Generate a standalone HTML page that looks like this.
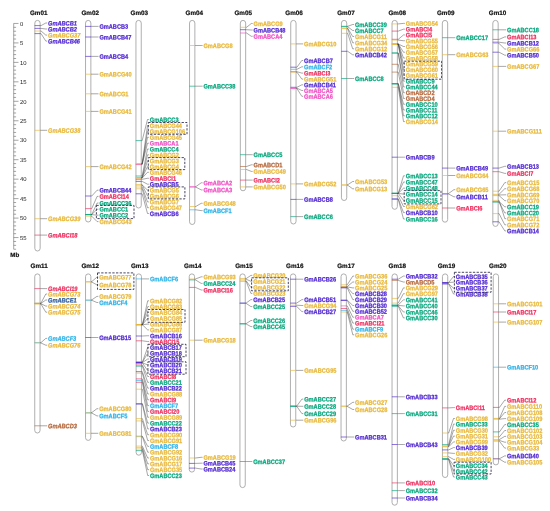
<!DOCTYPE html>
<html><head><meta charset="utf-8"><title>GmABC chromosome map</title>
<style>html,body{margin:0;padding:0;background:#fff}svg{display:block}</style></head>
<body>
<svg width="550" height="511" viewBox="0 0 550 511" font-family="'Liberation Sans', Arial, sans-serif" text-rendering="geometricPrecision">
<rect width="550" height="511" fill="#fff"/>
<g stroke="#5a5a5a" stroke-width="0.55" fill="none"><line x1="13.7" y1="23.45" x2="13.7" y2="249.24"/><line x1="13.7" y1="23.45" x2="18.5" y2="23.45"/><line x1="13.7" y1="27.34" x2="16.099999999999998" y2="27.34"/><line x1="13.7" y1="31.24" x2="16.099999999999998" y2="31.24"/><line x1="13.7" y1="35.13" x2="16.099999999999998" y2="35.13"/><line x1="13.7" y1="39.02" x2="16.099999999999998" y2="39.02"/><line x1="13.7" y1="42.91" x2="18.5" y2="42.91"/><line x1="13.7" y1="46.81" x2="16.099999999999998" y2="46.81"/><line x1="13.7" y1="50.70" x2="16.099999999999998" y2="50.70"/><line x1="13.7" y1="54.59" x2="16.099999999999998" y2="54.59"/><line x1="13.7" y1="58.49" x2="16.099999999999998" y2="58.49"/><line x1="13.7" y1="62.38" x2="18.5" y2="62.38"/><line x1="13.7" y1="66.27" x2="16.099999999999998" y2="66.27"/><line x1="13.7" y1="70.17" x2="16.099999999999998" y2="70.17"/><line x1="13.7" y1="74.06" x2="16.099999999999998" y2="74.06"/><line x1="13.7" y1="77.95" x2="16.099999999999998" y2="77.95"/><line x1="13.7" y1="81.84" x2="18.5" y2="81.84"/><line x1="13.7" y1="85.74" x2="16.099999999999998" y2="85.74"/><line x1="13.7" y1="89.63" x2="16.099999999999998" y2="89.63"/><line x1="13.7" y1="93.52" x2="16.099999999999998" y2="93.52"/><line x1="13.7" y1="97.42" x2="16.099999999999998" y2="97.42"/><line x1="13.7" y1="101.31" x2="18.5" y2="101.31"/><line x1="13.7" y1="105.20" x2="16.099999999999998" y2="105.20"/><line x1="13.7" y1="109.10" x2="16.099999999999998" y2="109.10"/><line x1="13.7" y1="112.99" x2="16.099999999999998" y2="112.99"/><line x1="13.7" y1="116.88" x2="16.099999999999998" y2="116.88"/><line x1="13.7" y1="120.77" x2="18.5" y2="120.77"/><line x1="13.7" y1="124.67" x2="16.099999999999998" y2="124.67"/><line x1="13.7" y1="128.56" x2="16.099999999999998" y2="128.56"/><line x1="13.7" y1="132.45" x2="16.099999999999998" y2="132.45"/><line x1="13.7" y1="136.35" x2="16.099999999999998" y2="136.35"/><line x1="13.7" y1="140.24" x2="18.5" y2="140.24"/><line x1="13.7" y1="144.13" x2="16.099999999999998" y2="144.13"/><line x1="13.7" y1="148.03" x2="16.099999999999998" y2="148.03"/><line x1="13.7" y1="151.92" x2="16.099999999999998" y2="151.92"/><line x1="13.7" y1="155.81" x2="16.099999999999998" y2="155.81"/><line x1="13.7" y1="159.70" x2="18.5" y2="159.70"/><line x1="13.7" y1="163.60" x2="16.099999999999998" y2="163.60"/><line x1="13.7" y1="167.49" x2="16.099999999999998" y2="167.49"/><line x1="13.7" y1="171.38" x2="16.099999999999998" y2="171.38"/><line x1="13.7" y1="175.28" x2="16.099999999999998" y2="175.28"/><line x1="13.7" y1="179.17" x2="18.5" y2="179.17"/><line x1="13.7" y1="183.06" x2="16.099999999999998" y2="183.06"/><line x1="13.7" y1="186.96" x2="16.099999999999998" y2="186.96"/><line x1="13.7" y1="190.85" x2="16.099999999999998" y2="190.85"/><line x1="13.7" y1="194.74" x2="16.099999999999998" y2="194.74"/><line x1="13.7" y1="198.63" x2="18.5" y2="198.63"/><line x1="13.7" y1="202.53" x2="16.099999999999998" y2="202.53"/><line x1="13.7" y1="206.42" x2="16.099999999999998" y2="206.42"/><line x1="13.7" y1="210.31" x2="16.099999999999998" y2="210.31"/><line x1="13.7" y1="214.21" x2="16.099999999999998" y2="214.21"/><line x1="13.7" y1="218.10" x2="18.5" y2="218.10"/><line x1="13.7" y1="221.99" x2="16.099999999999998" y2="221.99"/><line x1="13.7" y1="225.89" x2="16.099999999999998" y2="225.89"/><line x1="13.7" y1="229.78" x2="16.099999999999998" y2="229.78"/><line x1="13.7" y1="233.67" x2="16.099999999999998" y2="233.67"/><line x1="13.7" y1="237.56" x2="18.5" y2="237.56"/><line x1="13.7" y1="241.46" x2="16.099999999999998" y2="241.46"/><line x1="13.7" y1="245.35" x2="16.099999999999998" y2="245.35"/><line x1="13.7" y1="249.24" x2="16.099999999999998" y2="249.24"/></g>
<g font-size="5.9" fill="#222"><text x="20.0" y="25.65">0</text><text x="20.0" y="45.12">5</text><text x="20.0" y="64.58">10</text><text x="20.0" y="84.05">15</text><text x="20.0" y="103.51">20</text><text x="20.0" y="122.97">25</text><text x="20.0" y="142.44">30</text><text x="20.0" y="161.90">35</text><text x="20.0" y="181.37">40</text><text x="20.0" y="200.83">45</text><text x="20.0" y="220.30">50</text><text x="20.0" y="239.76">55</text></g>
<text x="10.3" y="257" font-size="6.2" font-weight="bold" fill="#111" stroke="#111" stroke-width="0.2">Mb</text>
<!-- Gm01 -->
<text x="29.9" y="14.6" font-size="6.3" font-weight="bold" fill="#111" stroke="#111" stroke-width="0.2">Gm01</text>
<rect x="34.84" y="20.40" width="5.32" height="230.60" rx="2.66" ry="2.66" fill="#fff" stroke="#a0a0a0" stroke-width="0.85"/>
<g><line x1="34.64" y1="25.60" x2="40.36" y2="25.60" stroke="#5128d2" stroke-width="0.65"/><line x1="34.64" y1="28.40" x2="40.36" y2="28.40" stroke="#5128d2" stroke-width="0.65"/><line x1="34.64" y1="31.00" x2="40.36" y2="31.00" stroke="#e8b83a" stroke-width="0.65"/><line x1="34.64" y1="33.60" x2="40.36" y2="33.60" stroke="#5128d2" stroke-width="0.65"/><line x1="34.64" y1="130.30" x2="40.36" y2="130.30" stroke="#e8b83a" stroke-width="0.65"/><line x1="34.64" y1="218.70" x2="40.36" y2="218.70" stroke="#e8b83a" stroke-width="0.65"/><line x1="34.64" y1="235.10" x2="40.36" y2="235.10" stroke="#ef2f5f" stroke-width="0.65"/></g>
<g fill="none" stroke="#3c3c3c" stroke-width="0.45"><polyline points="40.36,25.60 41.06,25.60 45.80,23.00 47.20,23.00"/><polyline points="40.36,28.40 41.06,28.40 45.80,29.00 47.20,29.00"/><polyline points="40.36,31.00 41.06,31.00 45.80,35.10 47.20,35.10"/><polyline points="40.36,33.60 41.06,33.60 45.80,41.10 47.20,41.10"/><polyline points="40.36,130.30 41.06,130.30 45.80,130.30 47.20,130.30"/><polyline points="40.36,218.70 41.06,218.70 45.80,218.70 47.20,218.70"/><polyline points="40.36,235.10 41.06,235.10 45.80,235.10 47.20,235.10"/></g>
<g font-size="6.4" font-weight="bold" stroke-width="0.25" paint-order="stroke" font-style="italic"><text transform="translate(48.10,25.40) scale(0.88,1) rotate(0.03)" fill="#5128d2" stroke="#5128d2">GmABCB1</text><text transform="translate(48.10,31.40) scale(0.88,1) rotate(0.03)" fill="#5128d2" stroke="#5128d2">GmABCB2</text><text transform="translate(48.10,37.50) scale(0.88,1) rotate(0.03)" fill="#e8b83a" stroke="#e8b83a">GmABCG37</text><text transform="translate(48.10,43.50) scale(0.88,1) rotate(0.03)" fill="#5128d2" stroke="#5128d2">GmABCB46</text><text transform="translate(48.10,132.70) scale(0.88,1) rotate(0.03)" fill="#e8b83a" stroke="#e8b83a">GmABCG38</text><text transform="translate(48.10,221.10) scale(0.88,1) rotate(0.03)" fill="#e8b83a" stroke="#e8b83a">GmABCG39</text><text transform="translate(48.10,237.50) scale(0.88,1) rotate(0.03)" fill="#ef2f5f" stroke="#ef2f5f">GmABCI18</text></g>
<!-- Gm02 -->
<text x="81.4" y="14.6" font-size="6.3" font-weight="bold" fill="#111" stroke="#111" stroke-width="0.2">Gm02</text>
<rect x="85.54" y="20.40" width="5.32" height="201.60" rx="2.66" ry="2.66" fill="#fff" stroke="#a0a0a0" stroke-width="0.85"/>
<g><line x1="85.34" y1="26.40" x2="91.06" y2="26.40" stroke="#5128d2" stroke-width="0.65"/><line x1="85.34" y1="37.00" x2="91.06" y2="37.00" stroke="#5128d2" stroke-width="0.65"/><line x1="85.34" y1="56.40" x2="91.06" y2="56.40" stroke="#5128d2" stroke-width="0.65"/><line x1="85.34" y1="74.20" x2="91.06" y2="74.20" stroke="#e8b83a" stroke-width="0.65"/><line x1="85.34" y1="93.80" x2="91.06" y2="93.80" stroke="#e8b83a" stroke-width="0.65"/><line x1="85.34" y1="111.40" x2="91.06" y2="111.40" stroke="#e8b83a" stroke-width="0.65"/><line x1="85.34" y1="166.60" x2="91.06" y2="166.60" stroke="#e8b83a" stroke-width="0.65"/><line x1="85.34" y1="196.00" x2="91.06" y2="196.00" stroke="#5128d2" stroke-width="0.65"/><line x1="85.34" y1="208.60" x2="91.06" y2="208.60" stroke="#ef2f5f" stroke-width="0.65"/><line x1="85.34" y1="214.60" x2="91.06" y2="214.60" stroke="#06a77d" stroke-width="0.65"/><line x1="85.34" y1="214.60" x2="91.06" y2="214.60" stroke="#06a77d" stroke-width="0.65"/><line x1="85.34" y1="214.60" x2="91.06" y2="214.60" stroke="#06a77d" stroke-width="0.65"/><line x1="85.34" y1="216.20" x2="91.06" y2="216.20" stroke="#e8b83a" stroke-width="0.65"/></g>
<g fill="none" stroke="#3c3c3c" stroke-width="0.45"><polyline points="91.06,26.40 91.76,26.40 97.10,26.40 98.50,26.40"/><polyline points="91.06,37.00 91.76,37.00 97.10,37.00 98.50,37.00"/><polyline points="91.06,56.40 91.76,56.40 97.10,56.40 98.50,56.40"/><polyline points="91.06,74.20 91.76,74.20 97.10,74.20 98.50,74.20"/><polyline points="91.06,93.80 91.76,93.80 97.10,93.80 98.50,93.80"/><polyline points="91.06,111.40 91.76,111.40 97.10,111.40 98.50,111.40"/><polyline points="91.06,166.60 91.76,166.60 97.10,166.60 98.50,166.60"/><polyline points="91.06,196.00 91.76,196.00 97.10,190.20 98.50,190.20"/><polyline points="91.06,208.60 91.76,208.60 97.10,196.40 98.50,196.40"/><polyline points="91.06,214.60 91.76,214.60 97.10,203.00 98.50,203.00"/><polyline points="91.06,214.60 91.76,214.60 97.10,209.20 98.50,209.20"/><polyline points="91.06,214.60 91.76,214.60 97.10,215.20 98.50,215.20"/><polyline points="91.06,216.20 91.76,216.20 97.10,221.60 98.50,221.60"/></g>
<g font-size="6.4" font-weight="bold" stroke-width="0.25" paint-order="stroke"><text transform="translate(99.40,28.80) scale(0.88,1) rotate(0.03)" fill="#5128d2" stroke="#5128d2">GmABCB3</text><text transform="translate(99.40,39.40) scale(0.88,1) rotate(0.03)" fill="#5128d2" stroke="#5128d2">GmABCB47</text><text transform="translate(99.40,58.80) scale(0.88,1) rotate(0.03)" fill="#5128d2" stroke="#5128d2">GmABCB4</text><text transform="translate(99.40,76.60) scale(0.88,1) rotate(0.03)" fill="#e8b83a" stroke="#e8b83a">GmABCG40</text><text transform="translate(99.40,96.20) scale(0.88,1) rotate(0.03)" fill="#e8b83a" stroke="#e8b83a">GmABCG1</text><text transform="translate(99.40,113.80) scale(0.88,1) rotate(0.03)" fill="#e8b83a" stroke="#e8b83a">GmABCG41</text><text transform="translate(99.40,169.00) scale(0.88,1) rotate(0.03)" fill="#e8b83a" stroke="#e8b83a">GmABCG42</text><text transform="translate(99.40,192.60) scale(0.88,1) rotate(0.03)" fill="#5128d2" stroke="#5128d2">GmABCB44</text><text transform="translate(99.40,198.80) scale(0.88,1) rotate(0.03)" fill="#ef2f5f" stroke="#ef2f5f">GmABCI14</text><text transform="translate(99.40,205.40) scale(0.88,1) rotate(0.03)" fill="#06a77d" stroke="#06a77d">GmABCC36</text><text transform="translate(99.40,211.60) scale(0.88,1) rotate(0.03)" fill="#06a77d" stroke="#06a77d">GmABCC1</text><text transform="translate(99.40,217.60) scale(0.88,1) rotate(0.03)" fill="#06a77d" stroke="#06a77d">GmABCC2</text><text transform="translate(99.40,224.00) scale(0.88,1) rotate(0.03)" fill="#e8b83a" stroke="#e8b83a">GmABCG43</text></g>
<rect x="96.4" y="205.4" width="37.60" height="13.20" fill="none" stroke="#1b1b3c" stroke-width="0.8" stroke-dasharray="2.3 1.4"/>
<!-- Gm03 -->
<text x="130.6" y="14.6" font-size="6.3" font-weight="bold" fill="#111" stroke="#111" stroke-width="0.2">Gm03</text>
<rect x="135.94" y="20.40" width="5.32" height="187.60" rx="2.66" ry="2.66" fill="#fff" stroke="#a0a0a0" stroke-width="0.85"/>
<g><line x1="135.74" y1="140.60" x2="141.46" y2="140.60" stroke="#06a77d" stroke-width="0.65"/><line x1="135.74" y1="163.90" x2="141.46" y2="163.90" stroke="#e8b83a" stroke-width="0.65"/><line x1="135.74" y1="163.90" x2="141.46" y2="163.90" stroke="#e8b83a" stroke-width="0.65"/><line x1="135.74" y1="163.90" x2="141.46" y2="163.90" stroke="#e8b83a" stroke-width="0.65"/><line x1="135.74" y1="164.60" x2="141.46" y2="164.60" stroke="#f04fc4" stroke-width="0.65"/><line x1="135.74" y1="176.00" x2="141.46" y2="176.00" stroke="#06a77d" stroke-width="0.65"/><line x1="135.74" y1="177.70" x2="141.46" y2="177.70" stroke="#e8b83a" stroke-width="0.65"/><line x1="135.74" y1="177.70" x2="141.46" y2="177.70" stroke="#e8b83a" stroke-width="0.65"/><line x1="135.74" y1="177.70" x2="141.46" y2="177.70" stroke="#e8b83a" stroke-width="0.65"/><line x1="135.74" y1="178.10" x2="141.46" y2="178.10" stroke="#e8b83a" stroke-width="0.65"/><line x1="135.74" y1="179.30" x2="141.46" y2="179.30" stroke="#ef2f5f" stroke-width="0.65"/><line x1="135.74" y1="181.40" x2="141.46" y2="181.40" stroke="#5128d2" stroke-width="0.65"/><line x1="135.74" y1="184.90" x2="141.46" y2="184.90" stroke="#e8b83a" stroke-width="0.65"/><line x1="135.74" y1="184.90" x2="141.46" y2="184.90" stroke="#e8b83a" stroke-width="0.65"/><line x1="135.74" y1="187.00" x2="141.46" y2="187.00" stroke="#e8b83a" stroke-width="0.65"/><line x1="135.74" y1="188.80" x2="141.46" y2="188.80" stroke="#e8b83a" stroke-width="0.65"/><line x1="135.74" y1="193.80" x2="141.46" y2="193.80" stroke="#5128d2" stroke-width="0.65"/></g>
<g fill="none" stroke="#3c3c3c" stroke-width="0.45"><polyline points="141.46,140.60 142.16,140.60 147.50,119.50 148.90,119.50"/><polyline points="141.46,163.90 142.16,163.90 147.50,125.50 148.90,125.50"/><polyline points="141.46,163.90 142.16,163.90 147.50,131.40 148.90,131.40"/><polyline points="141.46,163.90 142.16,163.90 147.50,137.30 148.90,137.30"/><polyline points="141.46,164.60 142.16,164.60 147.50,143.20 148.90,143.20"/><polyline points="141.46,176.00 142.16,176.00 147.50,149.00 148.90,149.00"/><polyline points="141.46,177.70 142.16,177.70 147.50,154.80 148.90,154.80"/><polyline points="141.46,177.70 142.16,177.70 147.50,160.80 148.90,160.80"/><polyline points="141.46,177.70 142.16,177.70 147.50,166.60 148.90,166.60"/><polyline points="141.46,178.10 142.16,178.10 147.50,172.30 148.90,172.30"/><polyline points="141.46,179.30 142.16,179.30 147.50,178.30 148.90,178.30"/><polyline points="141.46,181.40 142.16,181.40 147.50,184.20 148.90,184.20"/><polyline points="141.46,184.90 142.16,184.90 147.50,190.10 148.90,190.10"/><polyline points="141.46,184.90 142.16,184.90 147.50,195.90 148.90,195.90"/><polyline points="141.46,187.00 142.16,187.00 147.50,201.90 148.90,201.90"/><polyline points="141.46,188.80 142.16,188.80 147.50,207.70 148.90,207.70"/><polyline points="141.46,193.80 142.16,193.80 147.50,213.50 148.90,213.50"/></g>
<g font-size="6.4" font-weight="bold" stroke-width="0.25" paint-order="stroke"><text transform="translate(149.80,121.90) scale(0.88,1) rotate(0.03)" fill="#06a77d" stroke="#06a77d">GmABCC3</text><text transform="translate(149.80,127.90) scale(0.88,1) rotate(0.03)" fill="#e8b83a" stroke="#e8b83a">GmABCG44</text><text transform="translate(149.80,133.80) scale(0.88,1) rotate(0.03)" fill="#e8b83a" stroke="#e8b83a">GmABCG106</text><text transform="translate(149.80,139.70) scale(0.88,1) rotate(0.03)" fill="#e8b83a" stroke="#e8b83a">GmABCG45</text><text transform="translate(149.80,145.60) scale(0.88,1) rotate(0.03)" fill="#f04fc4" stroke="#f04fc4">GmABCA1</text><text transform="translate(149.80,151.40) scale(0.88,1) rotate(0.03)" fill="#06a77d" stroke="#06a77d">GmABCC4</text><text transform="translate(149.80,157.20) scale(0.88,1) rotate(0.03)" fill="#e8b83a" stroke="#e8b83a">GmABCG2</text><text transform="translate(149.80,163.20) scale(0.88,1) rotate(0.03)" fill="#e8b83a" stroke="#e8b83a">GmABCG3</text><text transform="translate(149.80,169.00) scale(0.88,1) rotate(0.03)" fill="#e8b83a" stroke="#e8b83a">GmABCG4</text><text transform="translate(149.80,174.70) scale(0.88,1) rotate(0.03)" fill="#e8b83a" stroke="#e8b83a">GmABCG46</text><text transform="translate(149.80,180.70) scale(0.88,1) rotate(0.03)" fill="#ef2f5f" stroke="#ef2f5f">GmABCI1</text><text transform="translate(149.80,186.60) scale(0.88,1) rotate(0.03)" fill="#5128d2" stroke="#5128d2">GmABCB5</text><text transform="translate(149.80,192.50) scale(0.88,1) rotate(0.03)" fill="#e8b83a" stroke="#e8b83a">GmABCG5</text><text transform="translate(149.80,198.30) scale(0.88,1) rotate(0.03)" fill="#e8b83a" stroke="#e8b83a">GmABCG6</text><text transform="translate(149.80,204.30) scale(0.88,1) rotate(0.03)" fill="#e8b83a" stroke="#e8b83a">GmABCG7</text><text transform="translate(149.80,210.10) scale(0.88,1) rotate(0.03)" fill="#e8b83a" stroke="#e8b83a">GmABCG47</text><text transform="translate(149.80,215.90) scale(0.88,1) rotate(0.03)" fill="#5128d2" stroke="#5128d2">GmABCB6</text></g>
<rect x="148.3" y="122.5" width="38.70" height="11.80" fill="none" stroke="#1b1b3c" stroke-width="0.8" stroke-dasharray="2.3 1.4"/>
<rect x="148.3" y="157.6" width="36.50" height="12.00" fill="none" stroke="#1b1b3c" stroke-width="0.8" stroke-dasharray="2.3 1.4"/>
<rect x="148.3" y="186.9" width="36.60" height="12.00" fill="none" stroke="#1b1b3c" stroke-width="0.8" stroke-dasharray="2.3 1.4"/>
<!-- Gm04 -->
<text x="185.5" y="14.6" font-size="6.3" font-weight="bold" fill="#111" stroke="#111" stroke-width="0.2">Gm04</text>
<rect x="189.54" y="20.40" width="5.32" height="204.10" rx="2.66" ry="2.66" fill="#fff" stroke="#a0a0a0" stroke-width="0.85"/>
<g><line x1="189.34" y1="45.50" x2="195.06" y2="45.50" stroke="#e8b83a" stroke-width="0.65"/><line x1="189.34" y1="86.20" x2="195.06" y2="86.20" stroke="#06a77d" stroke-width="0.65"/><line x1="189.34" y1="186.70" x2="195.06" y2="186.70" stroke="#f04fc4" stroke-width="0.65"/><line x1="189.34" y1="187.10" x2="195.06" y2="187.10" stroke="#f04fc4" stroke-width="0.65"/><line x1="189.34" y1="206.50" x2="195.06" y2="206.50" stroke="#e8b83a" stroke-width="0.65"/><line x1="189.34" y1="209.80" x2="195.06" y2="209.80" stroke="#2fb3e8" stroke-width="0.65"/></g>
<g fill="none" stroke="#3c3c3c" stroke-width="0.45"><polyline points="195.06,45.50 195.76,45.50 201.20,45.50 202.60,45.50"/><polyline points="195.06,86.20 195.76,86.20 201.20,86.20 202.60,86.20"/><polyline points="195.06,186.70 195.76,186.70 201.20,182.80 202.60,182.80"/><polyline points="195.06,187.10 195.76,187.10 201.20,189.90 202.60,189.90"/><polyline points="195.06,206.50 195.76,206.50 201.20,203.30 202.60,203.30"/><polyline points="195.06,209.80 195.76,209.80 201.20,210.60 202.60,210.60"/></g>
<g font-size="6.4" font-weight="bold" stroke-width="0.25" paint-order="stroke"><text transform="translate(203.50,47.90) scale(0.88,1) rotate(0.03)" fill="#e8b83a" stroke="#e8b83a">GmABCG8</text><text transform="translate(203.50,88.60) scale(0.88,1) rotate(0.03)" fill="#06a77d" stroke="#06a77d">GmABCC38</text><text transform="translate(203.50,185.20) scale(0.88,1) rotate(0.03)" fill="#f04fc4" stroke="#f04fc4">GmABCA2</text><text transform="translate(203.50,192.30) scale(0.88,1) rotate(0.03)" fill="#f04fc4" stroke="#f04fc4">GmABCA3</text><text transform="translate(203.50,205.70) scale(0.88,1) rotate(0.03)" fill="#e8b83a" stroke="#e8b83a">GmABCG48</text><text transform="translate(203.50,213.00) scale(0.88,1) rotate(0.03)" fill="#2fb3e8" stroke="#2fb3e8">GmABCF1</text></g>
<!-- Gm05 -->
<text x="234.4" y="14.6" font-size="6.3" font-weight="bold" fill="#111" stroke="#111" stroke-width="0.2">Gm05</text>
<rect x="240.34" y="20.40" width="5.32" height="170.40" rx="2.66" ry="2.66" fill="#fff" stroke="#a0a0a0" stroke-width="0.85"/>
<g><line x1="240.14" y1="27.30" x2="245.86" y2="27.30" stroke="#e8b83a" stroke-width="0.65"/><line x1="240.14" y1="29.70" x2="245.86" y2="29.70" stroke="#5128d2" stroke-width="0.65"/><line x1="240.14" y1="33.00" x2="245.86" y2="33.00" stroke="#f04fc4" stroke-width="0.65"/><line x1="240.14" y1="154.70" x2="245.86" y2="154.70" stroke="#06a77d" stroke-width="0.65"/><line x1="240.14" y1="166.50" x2="245.86" y2="166.50" stroke="#b5673a" stroke-width="0.65"/><line x1="240.14" y1="169.50" x2="245.86" y2="169.50" stroke="#e8b83a" stroke-width="0.65"/><line x1="240.14" y1="180.10" x2="245.86" y2="180.10" stroke="#ef2f5f" stroke-width="0.65"/><line x1="240.14" y1="186.90" x2="245.86" y2="186.90" stroke="#e8b83a" stroke-width="0.65"/></g>
<g fill="none" stroke="#3c3c3c" stroke-width="0.45"><polyline points="245.86,27.30 246.56,27.30 251.30,23.50 252.70,23.50"/><polyline points="245.86,29.70 246.56,29.70 251.30,30.00 252.70,30.00"/><polyline points="245.86,33.00 246.56,33.00 251.30,36.30 252.70,36.30"/><polyline points="245.86,154.70 246.56,154.70 251.30,154.70 252.70,154.70"/><polyline points="245.86,166.50 246.56,166.50 251.30,164.80 252.70,164.80"/><polyline points="245.86,169.50 246.56,169.50 251.30,171.40 252.70,171.40"/><polyline points="245.86,180.10 246.56,180.10 251.30,180.10 252.70,180.10"/><polyline points="245.86,186.90 246.56,186.90 251.30,186.90 252.70,186.90"/></g>
<g font-size="6.4" font-weight="bold" stroke-width="0.25" paint-order="stroke"><text transform="translate(253.60,25.90) scale(0.88,1) rotate(0.03)" fill="#e8b83a" stroke="#e8b83a">GmABCG9</text><text transform="translate(253.60,32.40) scale(0.88,1) rotate(0.03)" fill="#5128d2" stroke="#5128d2">GmABCB48</text><text transform="translate(253.60,38.70) scale(0.88,1) rotate(0.03)" fill="#f04fc4" stroke="#f04fc4">GmABCA4</text><text transform="translate(253.60,157.10) scale(0.88,1) rotate(0.03)" fill="#06a77d" stroke="#06a77d">GmABCC5</text><text transform="translate(253.60,167.20) scale(0.88,1) rotate(0.03)" fill="#b5673a" stroke="#b5673a">GmABCD1</text><text transform="translate(253.60,173.80) scale(0.88,1) rotate(0.03)" fill="#e8b83a" stroke="#e8b83a">GmABCG49</text><text transform="translate(253.60,182.50) scale(0.88,1) rotate(0.03)" fill="#ef2f5f" stroke="#ef2f5f">GmABCI2</text><text transform="translate(253.60,189.30) scale(0.88,1) rotate(0.03)" fill="#e8b83a" stroke="#e8b83a">GmABCG50</text></g>
<!-- Gm06 -->
<text x="285.3" y="14.6" font-size="6.3" font-weight="bold" fill="#111" stroke="#111" stroke-width="0.2">Gm06</text>
<rect x="290.74" y="20.40" width="5.32" height="203.60" rx="2.66" ry="2.66" fill="#fff" stroke="#a0a0a0" stroke-width="0.85"/>
<g><line x1="290.54" y1="43.90" x2="296.26" y2="43.90" stroke="#e8b83a" stroke-width="0.65"/><line x1="290.54" y1="67.20" x2="296.26" y2="67.20" stroke="#5128d2" stroke-width="0.65"/><line x1="290.54" y1="69.30" x2="296.26" y2="69.30" stroke="#2fb3e8" stroke-width="0.65"/><line x1="290.54" y1="71.70" x2="296.26" y2="71.70" stroke="#ef2f5f" stroke-width="0.65"/><line x1="290.54" y1="72.20" x2="296.26" y2="72.20" stroke="#e8b83a" stroke-width="0.65"/><line x1="290.54" y1="87.30" x2="296.26" y2="87.30" stroke="#5128d2" stroke-width="0.65"/><line x1="290.54" y1="88.20" x2="296.26" y2="88.20" stroke="#f04fc4" stroke-width="0.65"/><line x1="290.54" y1="88.60" x2="296.26" y2="88.60" stroke="#f04fc4" stroke-width="0.65"/><line x1="290.54" y1="183.90" x2="296.26" y2="183.90" stroke="#e8b83a" stroke-width="0.65"/><line x1="290.54" y1="199.40" x2="296.26" y2="199.40" stroke="#5128d2" stroke-width="0.65"/><line x1="290.54" y1="216.60" x2="296.26" y2="216.60" stroke="#06a77d" stroke-width="0.65"/></g>
<g fill="none" stroke="#3c3c3c" stroke-width="0.45"><polyline points="296.26,43.90 296.96,43.90 301.80,43.90 303.20,43.90"/><polyline points="296.26,67.20 296.96,67.20 301.80,60.50 303.20,60.50"/><polyline points="296.26,69.30 296.96,69.30 301.80,66.80 303.20,66.80"/><polyline points="296.26,71.70 296.96,71.70 301.80,73.10 303.20,73.10"/><polyline points="296.26,72.20 296.96,72.20 301.80,79.10 303.20,79.10"/><polyline points="296.26,87.30 296.96,87.30 301.80,84.80 303.20,84.80"/><polyline points="296.26,88.20 296.96,88.20 301.80,90.50 303.20,90.50"/><polyline points="296.26,88.60 296.96,88.60 301.80,96.30 303.20,96.30"/><polyline points="296.26,183.90 296.96,183.90 301.80,183.90 303.20,183.90"/><polyline points="296.26,199.40 296.96,199.40 301.80,199.40 303.20,199.40"/><polyline points="296.26,216.60 296.96,216.60 301.80,216.60 303.20,216.60"/></g>
<g font-size="6.4" font-weight="bold" stroke-width="0.25" paint-order="stroke"><text transform="translate(304.10,46.30) scale(0.88,1) rotate(0.03)" fill="#e8b83a" stroke="#e8b83a">GmABCG10</text><text transform="translate(304.10,62.90) scale(0.88,1) rotate(0.03)" fill="#5128d2" stroke="#5128d2">GmABCB7</text><text transform="translate(304.10,69.20) scale(0.88,1) rotate(0.03)" fill="#2fb3e8" stroke="#2fb3e8">GmABCF2</text><text transform="translate(304.10,75.50) scale(0.88,1) rotate(0.03)" fill="#ef2f5f" stroke="#ef2f5f">GmABCI3</text><text transform="translate(304.10,81.50) scale(0.88,1) rotate(0.03)" fill="#e8b83a" stroke="#e8b83a">GmABCG51</text><text transform="translate(304.10,87.20) scale(0.88,1) rotate(0.03)" fill="#5128d2" stroke="#5128d2">GmABCB41</text><text transform="translate(304.10,92.90) scale(0.88,1) rotate(0.03)" fill="#f04fc4" stroke="#f04fc4">GmABCA5</text><text transform="translate(304.10,98.70) scale(0.88,1) rotate(0.03)" fill="#f04fc4" stroke="#f04fc4">GmABCA6</text><text transform="translate(304.10,186.30) scale(0.88,1) rotate(0.03)" fill="#e8b83a" stroke="#e8b83a">GmABCG52</text><text transform="translate(304.10,201.80) scale(0.88,1) rotate(0.03)" fill="#5128d2" stroke="#5128d2">GmABCB8</text><text transform="translate(304.10,219.00) scale(0.88,1) rotate(0.03)" fill="#06a77d" stroke="#06a77d">GmABCC6</text></g>
<!-- Gm07 -->
<text x="337.2" y="14.6" font-size="6.3" font-weight="bold" fill="#111" stroke="#111" stroke-width="0.2">Gm07</text>
<rect x="341.44" y="20.40" width="5.32" height="180.10" rx="2.66" ry="2.66" fill="#fff" stroke="#a0a0a0" stroke-width="0.85"/>
<g><line x1="341.24" y1="26.30" x2="346.96" y2="26.30" stroke="#06a77d" stroke-width="0.65"/><line x1="341.24" y1="26.70" x2="346.96" y2="26.70" stroke="#06a77d" stroke-width="0.65"/><line x1="341.24" y1="28.20" x2="346.96" y2="28.20" stroke="#e8b83a" stroke-width="0.65"/><line x1="341.24" y1="28.60" x2="346.96" y2="28.60" stroke="#e8b83a" stroke-width="0.65"/><line x1="341.24" y1="33.30" x2="346.96" y2="33.30" stroke="#e8b83a" stroke-width="0.65"/><line x1="341.24" y1="51.30" x2="346.96" y2="51.30" stroke="#5128d2" stroke-width="0.65"/><line x1="341.24" y1="78.50" x2="346.96" y2="78.50" stroke="#06a77d" stroke-width="0.65"/><line x1="341.24" y1="184.80" x2="346.96" y2="184.80" stroke="#e8b83a" stroke-width="0.65"/><line x1="341.24" y1="185.20" x2="346.96" y2="185.20" stroke="#e8b83a" stroke-width="0.65"/></g>
<g fill="none" stroke="#3c3c3c" stroke-width="0.45"><polyline points="346.96,26.30 347.66,26.30 352.70,24.50 354.10,24.50"/><polyline points="346.96,26.70 347.66,26.70 352.70,30.50 354.10,30.50"/><polyline points="346.96,28.20 347.66,28.20 352.70,36.50 354.10,36.50"/><polyline points="346.96,28.60 347.66,28.60 352.70,42.80 354.10,42.80"/><polyline points="346.96,33.30 347.66,33.30 352.70,48.80 354.10,48.80"/><polyline points="346.96,51.30 347.66,51.30 352.70,54.80 354.10,54.80"/><polyline points="346.96,78.50 347.66,78.50 352.70,78.50 354.10,78.50"/><polyline points="346.96,184.80 347.66,184.80 352.70,181.50 354.10,181.50"/><polyline points="346.96,185.20 347.66,185.20 352.70,188.80 354.10,188.80"/></g>
<g font-size="6.4" font-weight="bold" stroke-width="0.25" paint-order="stroke"><text transform="translate(355.00,26.90) scale(0.88,1) rotate(0.03)" fill="#06a77d" stroke="#06a77d">GmABCC39</text><text transform="translate(355.00,32.90) scale(0.88,1) rotate(0.03)" fill="#06a77d" stroke="#06a77d">GmABCC7</text><text transform="translate(355.00,38.90) scale(0.88,1) rotate(0.03)" fill="#e8b83a" stroke="#e8b83a">GmABCG11</text><text transform="translate(355.00,45.20) scale(0.88,1) rotate(0.03)" fill="#e8b83a" stroke="#e8b83a">GmABCG34</text><text transform="translate(355.00,51.20) scale(0.88,1) rotate(0.03)" fill="#e8b83a" stroke="#e8b83a">GmABCG12</text><text transform="translate(355.00,57.20) scale(0.88,1) rotate(0.03)" fill="#5128d2" stroke="#5128d2">GmABCB42</text><text transform="translate(355.00,80.90) scale(0.88,1) rotate(0.03)" fill="#06a77d" stroke="#06a77d">GmABCC8</text><text transform="translate(355.00,183.90) scale(0.88,1) rotate(0.03)" fill="#e8b83a" stroke="#e8b83a">GmABCG53</text><text transform="translate(355.00,191.20) scale(0.88,1) rotate(0.03)" fill="#e8b83a" stroke="#e8b83a">GmABCG13</text></g>
<!-- Gm08 -->
<text x="388.4" y="14.6" font-size="6.3" font-weight="bold" fill="#111" stroke="#111" stroke-width="0.2">Gm08</text>
<rect x="392.04" y="20.40" width="5.32" height="188.90" rx="2.66" ry="2.66" fill="#fff" stroke="#a0a0a0" stroke-width="0.85"/>
<g><line x1="391.84" y1="23.90" x2="397.56" y2="23.90" stroke="#e8b83a" stroke-width="0.65"/><line x1="391.84" y1="31.10" x2="397.56" y2="31.10" stroke="#ef2f5f" stroke-width="0.65"/><line x1="391.84" y1="39.30" x2="397.56" y2="39.30" stroke="#ef2f5f" stroke-width="0.65"/><line x1="391.84" y1="40.10" x2="397.56" y2="40.10" stroke="#e8b83a" stroke-width="0.65"/><line x1="391.84" y1="44.00" x2="397.56" y2="44.00" stroke="#e8b83a" stroke-width="0.65"/><line x1="391.84" y1="44.00" x2="397.56" y2="44.00" stroke="#e8b83a" stroke-width="0.65"/><line x1="391.84" y1="44.00" x2="397.56" y2="44.00" stroke="#e8b83a" stroke-width="0.65"/><line x1="391.84" y1="44.00" x2="397.56" y2="44.00" stroke="#e8b83a" stroke-width="0.65"/><line x1="391.84" y1="44.00" x2="397.56" y2="44.00" stroke="#e8b83a" stroke-width="0.65"/><line x1="391.84" y1="44.00" x2="397.56" y2="44.00" stroke="#e8b83a" stroke-width="0.65"/><line x1="391.84" y1="53.00" x2="397.56" y2="53.00" stroke="#06a77d" stroke-width="0.65"/><line x1="391.84" y1="53.00" x2="397.56" y2="53.00" stroke="#06a77d" stroke-width="0.65"/><line x1="391.84" y1="64.30" x2="397.56" y2="64.30" stroke="#b5673a" stroke-width="0.65"/><line x1="391.84" y1="72.10" x2="397.56" y2="72.10" stroke="#b5673a" stroke-width="0.65"/><line x1="391.84" y1="83.60" x2="397.56" y2="83.60" stroke="#06a77d" stroke-width="0.65"/><line x1="391.84" y1="83.60" x2="397.56" y2="83.60" stroke="#06a77d" stroke-width="0.65"/><line x1="391.84" y1="84.10" x2="397.56" y2="84.10" stroke="#06a77d" stroke-width="0.65"/><line x1="391.84" y1="87.30" x2="397.56" y2="87.30" stroke="#e8b83a" stroke-width="0.65"/><line x1="391.84" y1="157.20" x2="397.56" y2="157.20" stroke="#5128d2" stroke-width="0.65"/><line x1="391.84" y1="193.40" x2="397.56" y2="193.40" stroke="#06a77d" stroke-width="0.65"/><line x1="391.84" y1="193.40" x2="397.56" y2="193.40" stroke="#06a77d" stroke-width="0.65"/><line x1="391.84" y1="193.40" x2="397.56" y2="193.40" stroke="#06a77d" stroke-width="0.65"/><line x1="391.84" y1="193.40" x2="397.56" y2="193.40" stroke="#06a77d" stroke-width="0.65"/><line x1="391.84" y1="193.40" x2="397.56" y2="193.40" stroke="#06a77d" stroke-width="0.65"/><line x1="391.84" y1="195.70" x2="397.56" y2="195.70" stroke="#e8b83a" stroke-width="0.65"/><line x1="391.84" y1="198.80" x2="397.56" y2="198.80" stroke="#5128d2" stroke-width="0.65"/><line x1="391.84" y1="199.40" x2="397.56" y2="199.40" stroke="#06a77d" stroke-width="0.65"/></g>
<g fill="none" stroke="#3c3c3c" stroke-width="0.45"><polyline points="397.56,23.90 398.26,23.90 403.50,23.40 404.90,23.40"/><polyline points="397.56,31.10 398.26,31.10 403.50,29.17 404.90,29.17"/><polyline points="397.56,39.30 398.26,39.30 403.50,34.95 404.90,34.95"/><polyline points="397.56,40.10 398.26,40.10 403.50,40.73 404.90,40.73"/><polyline points="397.56,44.00 398.26,44.00 403.50,46.50 404.90,46.50"/><polyline points="397.56,44.00 398.26,44.00 403.50,52.27 404.90,52.27"/><polyline points="397.56,44.00 398.26,44.00 403.50,58.05 404.90,58.05"/><polyline points="397.56,44.00 398.26,44.00 403.50,63.83 404.90,63.83"/><polyline points="397.56,44.00 398.26,44.00 403.50,69.60 404.90,69.60"/><polyline points="397.56,44.00 398.26,44.00 403.50,75.38 404.90,75.38"/><polyline points="397.56,53.00 398.26,53.00 403.50,81.15 404.90,81.15"/><polyline points="397.56,53.00 398.26,53.00 403.50,86.93 404.90,86.93"/><polyline points="397.56,64.30 398.26,64.30 403.50,92.70 404.90,92.70"/><polyline points="397.56,72.10 398.26,72.10 403.50,98.47 404.90,98.47"/><polyline points="397.56,83.60 398.26,83.60 403.50,104.25 404.90,104.25"/><polyline points="397.56,83.60 398.26,83.60 403.50,110.03 404.90,110.03"/><polyline points="397.56,84.10 398.26,84.10 403.50,115.80 404.90,115.80"/><polyline points="397.56,87.30 398.26,87.30 403.50,121.58 404.90,121.58"/><polyline points="397.56,157.20 398.26,157.20 403.50,157.20 404.90,157.20"/><polyline points="397.56,193.40 398.26,193.40 403.50,175.80 404.90,175.80"/><polyline points="397.56,193.40 398.26,193.40 403.50,182.00 404.90,182.00"/><polyline points="397.56,193.40 398.26,193.40 403.50,188.20 404.90,188.20"/><polyline points="397.56,193.40 398.26,193.40 403.50,194.10 404.90,194.10"/><polyline points="397.56,193.40 398.26,193.40 403.50,200.40 404.90,200.40"/><polyline points="397.56,195.70 398.26,195.70 403.50,206.50 404.90,206.50"/><polyline points="397.56,198.80 398.26,198.80 403.50,212.60 404.90,212.60"/><polyline points="397.56,199.40 398.26,199.40 403.50,219.00 404.90,219.00"/></g>
<g font-size="6.4" font-weight="bold" stroke-width="0.25" paint-order="stroke"><text transform="translate(405.80,25.80) scale(0.88,1) rotate(0.03)" fill="#e8b83a" stroke="#e8b83a">GmABCG54</text><text transform="translate(405.80,31.57) scale(0.88,1) rotate(0.03)" fill="#ef2f5f" stroke="#ef2f5f">GmABCI4</text><text transform="translate(405.80,37.35) scale(0.88,1) rotate(0.03)" fill="#ef2f5f" stroke="#ef2f5f">GmABCI5</text><text transform="translate(405.80,43.13) scale(0.88,1) rotate(0.03)" fill="#e8b83a" stroke="#e8b83a">GmABCG55</text><text transform="translate(405.80,48.90) scale(0.88,1) rotate(0.03)" fill="#e8b83a" stroke="#e8b83a">GmABCG56</text><text transform="translate(405.80,54.67) scale(0.88,1) rotate(0.03)" fill="#e8b83a" stroke="#e8b83a">GmABCG57</text><text transform="translate(405.80,60.45) scale(0.88,1) rotate(0.03)" fill="#e8b83a" stroke="#e8b83a">GmABCG58</text><text transform="translate(405.80,66.23) scale(0.88,1) rotate(0.03)" fill="#e8b83a" stroke="#e8b83a">GmABCG59</text><text transform="translate(405.80,72.00) scale(0.88,1) rotate(0.03)" fill="#e8b83a" stroke="#e8b83a">GmABCG60</text><text transform="translate(405.80,77.78) scale(0.88,1) rotate(0.03)" fill="#e8b83a" stroke="#e8b83a">GmABCG61</text><text transform="translate(405.80,83.55) scale(0.88,1) rotate(0.03)" fill="#06a77d" stroke="#06a77d">GmABCC9</text><text transform="translate(405.80,89.33) scale(0.88,1) rotate(0.03)" fill="#06a77d" stroke="#06a77d">GmABCC44</text><text transform="translate(405.80,95.10) scale(0.88,1) rotate(0.03)" fill="#b5673a" stroke="#b5673a">GmABCD2</text><text transform="translate(405.80,100.87) scale(0.88,1) rotate(0.03)" fill="#b5673a" stroke="#b5673a">GmABCD4</text><text transform="translate(405.80,106.65) scale(0.88,1) rotate(0.03)" fill="#06a77d" stroke="#06a77d">GmABCC10</text><text transform="translate(405.80,112.43) scale(0.88,1) rotate(0.03)" fill="#06a77d" stroke="#06a77d">GmABCC11</text><text transform="translate(405.80,118.20) scale(0.88,1) rotate(0.03)" fill="#06a77d" stroke="#06a77d">GmABCC12</text><text transform="translate(405.80,123.98) scale(0.88,1) rotate(0.03)" fill="#e8b83a" stroke="#e8b83a">GmABCG14</text><text transform="translate(405.80,159.60) scale(0.88,1) rotate(0.03)" fill="#5128d2" stroke="#5128d2">GmABCB9</text><text transform="translate(405.80,178.20) scale(0.88,1) rotate(0.03)" fill="#06a77d" stroke="#06a77d">GmABCC13</text><text transform="translate(405.80,184.40) scale(0.88,1) rotate(0.03)" fill="#06a77d" stroke="#06a77d">GmABCC47</text><text transform="translate(405.80,190.60) scale(0.88,1) rotate(0.03)" fill="#06a77d" stroke="#06a77d">GmABCC48</text><text transform="translate(405.80,196.50) scale(0.88,1) rotate(0.03)" fill="#06a77d" stroke="#06a77d">GmABCC14</text><text transform="translate(405.80,202.80) scale(0.88,1) rotate(0.03)" fill="#06a77d" stroke="#06a77d">GmABCC15</text><text transform="translate(405.80,208.90) scale(0.88,1) rotate(0.03)" fill="#e8b83a" stroke="#e8b83a">GmABCG62</text><text transform="translate(405.80,215.00) scale(0.88,1) rotate(0.03)" fill="#5128d2" stroke="#5128d2">GmABCB10</text><text transform="translate(405.80,221.40) scale(0.88,1) rotate(0.03)" fill="#06a77d" stroke="#06a77d">GmABCC16</text></g>
<rect x="404.2" y="61.2" width="37.30" height="18.00" fill="none" stroke="#1b1b3c" stroke-width="0.8" stroke-dasharray="2.3 1.4"/>
<rect x="404.2" y="190.6" width="36.80" height="13.30" fill="none" stroke="#1b1b3c" stroke-width="0.8" stroke-dasharray="2.3 1.4"/>
<!-- Gm09 -->
<text x="436.9" y="14.6" font-size="6.3" font-weight="bold" fill="#111" stroke="#111" stroke-width="0.2">Gm09</text>
<rect x="442.34" y="20.40" width="5.32" height="201.80" rx="2.66" ry="2.66" fill="#fff" stroke="#a0a0a0" stroke-width="0.85"/>
<g><line x1="442.14" y1="37.70" x2="447.86" y2="37.70" stroke="#06a77d" stroke-width="0.65"/><line x1="442.14" y1="54.70" x2="447.86" y2="54.70" stroke="#e8b83a" stroke-width="0.65"/><line x1="442.14" y1="168.10" x2="447.86" y2="168.10" stroke="#5128d2" stroke-width="0.65"/><line x1="442.14" y1="175.50" x2="447.86" y2="175.50" stroke="#e8b83a" stroke-width="0.65"/><line x1="442.14" y1="193.50" x2="447.86" y2="193.50" stroke="#e8b83a" stroke-width="0.65"/><line x1="442.14" y1="194.00" x2="447.86" y2="194.00" stroke="#5128d2" stroke-width="0.65"/><line x1="442.14" y1="208.00" x2="447.86" y2="208.00" stroke="#ef2f5f" stroke-width="0.65"/></g>
<g fill="none" stroke="#3c3c3c" stroke-width="0.45"><polyline points="447.86,37.70 448.56,37.70 453.90,37.70 455.30,37.70"/><polyline points="447.86,54.70 448.56,54.70 453.90,54.70 455.30,54.70"/><polyline points="447.86,168.10 448.56,168.10 453.90,168.10 455.30,168.10"/><polyline points="447.86,175.50 448.56,175.50 453.90,175.50 455.30,175.50"/><polyline points="447.86,193.50 448.56,193.50 453.90,189.70 455.30,189.70"/><polyline points="447.86,194.00 448.56,194.00 453.90,196.80 455.30,196.80"/><polyline points="447.86,208.00 448.56,208.00 453.90,208.00 455.30,208.00"/></g>
<g font-size="6.4" font-weight="bold" stroke-width="0.25" paint-order="stroke"><text transform="translate(456.20,40.10) scale(0.88,1) rotate(0.03)" fill="#06a77d" stroke="#06a77d">GmABCC17</text><text transform="translate(456.20,57.10) scale(0.88,1) rotate(0.03)" fill="#e8b83a" stroke="#e8b83a">GmABCG63</text><text transform="translate(456.20,170.50) scale(0.88,1) rotate(0.03)" fill="#5128d2" stroke="#5128d2">GmABCB49</text><text transform="translate(456.20,177.90) scale(0.88,1) rotate(0.03)" fill="#e8b83a" stroke="#e8b83a">GmABCG64</text><text transform="translate(456.20,192.10) scale(0.88,1) rotate(0.03)" fill="#e8b83a" stroke="#e8b83a">GmABCG65</text><text transform="translate(456.20,199.20) scale(0.88,1) rotate(0.03)" fill="#5128d2" stroke="#5128d2">GmABCB11</text><text transform="translate(456.20,210.40) scale(0.88,1) rotate(0.03)" fill="#ef2f5f" stroke="#ef2f5f">GmABCI6</text></g>
<!-- Gm10 -->
<text x="488.8" y="14.6" font-size="6.3" font-weight="bold" fill="#111" stroke="#111" stroke-width="0.2">Gm10</text>
<rect x="492.84" y="20.40" width="5.32" height="206.00" rx="2.66" ry="2.66" fill="#fff" stroke="#a0a0a0" stroke-width="0.85"/>
<g><line x1="492.64" y1="29.80" x2="498.36" y2="29.80" stroke="#06a77d" stroke-width="0.65"/><line x1="492.64" y1="39.40" x2="498.36" y2="39.40" stroke="#ef2f5f" stroke-width="0.65"/><line x1="492.64" y1="42.20" x2="498.36" y2="42.20" stroke="#5128d2" stroke-width="0.65"/><line x1="492.64" y1="43.50" x2="498.36" y2="43.50" stroke="#e8b83a" stroke-width="0.65"/><line x1="492.64" y1="52.20" x2="498.36" y2="52.20" stroke="#5128d2" stroke-width="0.65"/><line x1="492.64" y1="66.40" x2="498.36" y2="66.40" stroke="#e8b83a" stroke-width="0.65"/><line x1="492.64" y1="131.20" x2="498.36" y2="131.20" stroke="#e8b83a" stroke-width="0.65"/><line x1="492.64" y1="168.10" x2="498.36" y2="168.10" stroke="#5128d2" stroke-width="0.65"/><line x1="492.64" y1="171.70" x2="498.36" y2="171.70" stroke="#ef2f5f" stroke-width="0.65"/><line x1="492.64" y1="191.20" x2="498.36" y2="191.20" stroke="#e8b83a" stroke-width="0.65"/><line x1="492.64" y1="194.30" x2="498.36" y2="194.30" stroke="#e8b83a" stroke-width="0.65"/><line x1="492.64" y1="195.00" x2="498.36" y2="195.00" stroke="#e8b83a" stroke-width="0.65"/><line x1="492.64" y1="195.60" x2="498.36" y2="195.60" stroke="#e8b83a" stroke-width="0.65"/><line x1="492.64" y1="201.70" x2="498.36" y2="201.70" stroke="#06a77d" stroke-width="0.65"/><line x1="492.64" y1="202.10" x2="498.36" y2="202.10" stroke="#06a77d" stroke-width="0.65"/><line x1="492.64" y1="200.40" x2="498.36" y2="200.40" stroke="#e8b83a" stroke-width="0.65"/><line x1="492.64" y1="213.60" x2="498.36" y2="213.60" stroke="#e8b83a" stroke-width="0.65"/><line x1="492.64" y1="221.80" x2="498.36" y2="221.80" stroke="#5128d2" stroke-width="0.65"/></g>
<g fill="none" stroke="#3c3c3c" stroke-width="0.45"><polyline points="498.36,29.80 499.06,29.80 504.80,29.80 506.20,29.80"/><polyline points="498.36,39.40 499.06,39.40 504.80,36.90 506.20,36.90"/><polyline points="498.36,42.20 499.06,42.20 504.80,43.00 506.20,43.00"/><polyline points="498.36,43.50 499.06,43.50 504.80,49.10 506.20,49.10"/><polyline points="498.36,52.20 499.06,52.20 504.80,55.20 506.20,55.20"/><polyline points="498.36,66.40 499.06,66.40 504.80,66.40 506.20,66.40"/><polyline points="498.36,131.20 499.06,131.20 504.80,131.20 506.20,131.20"/><polyline points="498.36,168.10 499.06,168.10 504.80,166.30 506.20,166.30"/><polyline points="498.36,171.70 499.06,171.70 504.80,173.40 506.20,173.40"/><polyline points="498.36,191.20 499.06,191.20 504.80,182.60 506.20,182.60"/><polyline points="498.36,194.30 499.06,194.30 504.80,188.70 506.20,188.70"/><polyline points="498.36,195.00 499.06,195.00 504.80,194.80 506.20,194.80"/><polyline points="498.36,195.60 499.06,195.60 504.80,200.70 506.20,200.70"/><polyline points="498.36,201.70 499.06,201.70 504.80,206.80 506.20,206.80"/><polyline points="498.36,202.10 499.06,202.10 504.80,212.90 506.20,212.90"/><polyline points="498.36,200.40 499.06,200.40 504.80,218.70 506.20,218.70"/><polyline points="498.36,213.60 499.06,213.60 504.80,224.80 506.20,224.80"/><polyline points="498.36,221.80 499.06,221.80 504.80,230.90 506.20,230.90"/></g>
<g font-size="6.4" font-weight="bold" stroke-width="0.25" paint-order="stroke"><text transform="translate(507.10,32.20) scale(0.88,1) rotate(0.03)" fill="#06a77d" stroke="#06a77d">GmABCC18</text><text transform="translate(507.10,39.30) scale(0.88,1) rotate(0.03)" fill="#ef2f5f" stroke="#ef2f5f">GmABCI13</text><text transform="translate(507.10,45.40) scale(0.88,1) rotate(0.03)" fill="#5128d2" stroke="#5128d2">GmABCB12</text><text transform="translate(507.10,51.50) scale(0.88,1) rotate(0.03)" fill="#e8b83a" stroke="#e8b83a">GmABCG66</text><text transform="translate(507.10,57.60) scale(0.88,1) rotate(0.03)" fill="#5128d2" stroke="#5128d2">GmABCB50</text><text transform="translate(507.10,68.80) scale(0.88,1) rotate(0.03)" fill="#e8b83a" stroke="#e8b83a">GmABCG67</text><text transform="translate(507.10,133.60) scale(0.88,1) rotate(0.03)" fill="#e8b83a" stroke="#e8b83a">GmABCG111</text><text transform="translate(507.10,168.70) scale(0.88,1) rotate(0.03)" fill="#5128d2" stroke="#5128d2">GmABCB13</text><text transform="translate(507.10,175.80) scale(0.88,1) rotate(0.03)" fill="#ef2f5f" stroke="#ef2f5f">GmABCI7</text><text transform="translate(507.10,185.00) scale(0.88,1) rotate(0.03)" fill="#e8b83a" stroke="#e8b83a">GmABCG15</text><text transform="translate(507.10,191.10) scale(0.88,1) rotate(0.03)" fill="#e8b83a" stroke="#e8b83a">GmABCG68</text><text transform="translate(507.10,197.20) scale(0.88,1) rotate(0.03)" fill="#e8b83a" stroke="#e8b83a">GmABCG69</text><text transform="translate(507.10,203.10) scale(0.88,1) rotate(0.03)" fill="#e8b83a" stroke="#e8b83a">GmABCG70</text><text transform="translate(507.10,209.20) scale(0.88,1) rotate(0.03)" fill="#06a77d" stroke="#06a77d">GmABCC19</text><text transform="translate(507.10,215.30) scale(0.88,1) rotate(0.03)" fill="#06a77d" stroke="#06a77d">GmABCC20</text><text transform="translate(507.10,221.10) scale(0.88,1) rotate(0.03)" fill="#e8b83a" stroke="#e8b83a">GmABCG71</text><text transform="translate(507.10,227.20) scale(0.88,1) rotate(0.03)" fill="#e8b83a" stroke="#e8b83a">GmABCG72</text><text transform="translate(507.10,233.30) scale(0.88,1) rotate(0.03)" fill="#5128d2" stroke="#5128d2">GmABCB14</text></g>
<!-- Gm11 -->
<text x="30.5" y="268.1" font-size="6.3" font-weight="bold" fill="#111" stroke="#111" stroke-width="0.2">Gm11</text>
<rect x="34.74" y="273.90" width="5.32" height="159.10" rx="2.66" ry="2.66" fill="#fff" stroke="#a0a0a0" stroke-width="0.85"/>
<g><line x1="34.54" y1="288.60" x2="40.26" y2="288.60" stroke="#ef2f5f" stroke-width="0.65"/><line x1="34.54" y1="303.10" x2="40.26" y2="303.10" stroke="#e8b83a" stroke-width="0.65"/><line x1="34.54" y1="303.40" x2="40.26" y2="303.40" stroke="#2f5f9e" stroke-width="0.65"/><line x1="34.54" y1="303.70" x2="40.26" y2="303.70" stroke="#e8b83a" stroke-width="0.65"/><line x1="34.54" y1="304.00" x2="40.26" y2="304.00" stroke="#e8b83a" stroke-width="0.65"/><line x1="34.54" y1="342.60" x2="40.26" y2="342.60" stroke="#2fb3e8" stroke-width="0.65"/><line x1="34.54" y1="343.00" x2="40.26" y2="343.00" stroke="#e8b83a" stroke-width="0.65"/><line x1="34.54" y1="425.80" x2="40.26" y2="425.80" stroke="#b5673a" stroke-width="0.65"/></g>
<g fill="none" stroke="#3c3c3c" stroke-width="0.45"><polyline points="40.26,288.60 40.96,288.60 45.80,288.60 47.20,288.60"/><polyline points="40.26,303.10 40.96,303.10 45.80,294.00 47.20,294.00"/><polyline points="40.26,303.40 40.96,303.40 45.80,300.00 47.20,300.00"/><polyline points="40.26,303.70 40.96,303.70 45.80,306.10 47.20,306.10"/><polyline points="40.26,304.00 40.96,304.00 45.80,312.20 47.20,312.20"/><polyline points="40.26,342.60 40.96,342.60 45.80,338.40 47.20,338.40"/><polyline points="40.26,343.00 40.96,343.00 45.80,345.20 47.20,345.20"/><polyline points="40.26,425.80 40.96,425.80 45.80,425.80 47.20,425.80"/></g>
<g font-size="6.4" font-weight="bold" stroke-width="0.25" paint-order="stroke" font-style="italic"><text transform="translate(48.10,291.00) scale(0.88,1) rotate(0.03)" fill="#ef2f5f" stroke="#ef2f5f">GmABCI19</text><text transform="translate(48.10,296.40) scale(0.88,1) rotate(0.03)" fill="#e8b83a" stroke="#e8b83a">GmABCG73</text><text transform="translate(48.10,302.40) scale(0.88,1) rotate(0.03)" fill="#2f5f9e" stroke="#2f5f9e">GmABCE1</text><text transform="translate(48.10,308.50) scale(0.88,1) rotate(0.03)" fill="#e8b83a" stroke="#e8b83a">GmABCG74</text><text transform="translate(48.10,314.60) scale(0.88,1) rotate(0.03)" fill="#e8b83a" stroke="#e8b83a">GmABCG75</text><text transform="translate(48.10,340.80) scale(0.88,1) rotate(0.03)" fill="#2fb3e8" stroke="#2fb3e8">GmABCF3</text><text transform="translate(48.10,347.60) scale(0.88,1) rotate(0.03)" fill="#e8b83a" stroke="#e8b83a">GmABCG76</text><text transform="translate(48.10,428.20) scale(0.88,1) rotate(0.03)" fill="#b5673a" stroke="#b5673a">GmABCD3</text></g>
<!-- Gm12 -->
<text x="81.4" y="268.1" font-size="6.3" font-weight="bold" fill="#111" stroke="#111" stroke-width="0.2">Gm12</text>
<rect x="85.54" y="273.90" width="5.32" height="166.50" rx="2.66" ry="2.66" fill="#fff" stroke="#a0a0a0" stroke-width="0.85"/>
<g><line x1="85.34" y1="281.60" x2="91.06" y2="281.60" stroke="#e8b83a" stroke-width="0.65"/><line x1="85.34" y1="282.00" x2="91.06" y2="282.00" stroke="#e8b83a" stroke-width="0.65"/><line x1="85.34" y1="299.90" x2="91.06" y2="299.90" stroke="#e8b83a" stroke-width="0.65"/><line x1="85.34" y1="300.30" x2="91.06" y2="300.30" stroke="#2fb3e8" stroke-width="0.65"/><line x1="85.34" y1="337.50" x2="91.06" y2="337.50" stroke="#5128d2" stroke-width="0.65"/><line x1="85.34" y1="412.60" x2="91.06" y2="412.60" stroke="#e8b83a" stroke-width="0.65"/><line x1="85.34" y1="413.00" x2="91.06" y2="413.00" stroke="#2fb3e8" stroke-width="0.65"/><line x1="85.34" y1="433.30" x2="91.06" y2="433.30" stroke="#e8b83a" stroke-width="0.65"/></g>
<g fill="none" stroke="#3c3c3c" stroke-width="0.45"><polyline points="91.06,281.60 91.76,281.60 96.90,277.20 98.30,277.20"/><polyline points="91.06,282.00 91.76,282.00 96.90,284.90 98.30,284.90"/><polyline points="91.06,299.90 91.76,299.90 96.90,296.40 98.30,296.40"/><polyline points="91.06,300.30 91.76,300.30 96.90,302.50 98.30,302.50"/><polyline points="91.06,337.50 91.76,337.50 96.90,337.50 98.30,337.50"/><polyline points="91.06,412.60 91.76,412.60 96.90,408.70 98.30,408.70"/><polyline points="91.06,413.00 91.76,413.00 96.90,415.90 98.30,415.90"/><polyline points="91.06,433.30 91.76,433.30 96.90,433.30 98.30,433.30"/></g>
<g font-size="6.4" font-weight="bold" stroke-width="0.25" paint-order="stroke"><text transform="translate(99.20,279.60) scale(0.88,1) rotate(0.03)" fill="#e8b83a" stroke="#e8b83a">GmABCG77</text><text transform="translate(99.20,287.30) scale(0.88,1) rotate(0.03)" fill="#e8b83a" stroke="#e8b83a">GmABCG78</text><text transform="translate(99.20,298.80) scale(0.88,1) rotate(0.03)" fill="#e8b83a" stroke="#e8b83a">GmABCG79</text><text transform="translate(99.20,304.90) scale(0.88,1) rotate(0.03)" fill="#2fb3e8" stroke="#2fb3e8">GmABCF4</text><text transform="translate(99.20,339.90) scale(0.88,1) rotate(0.03)" fill="#5128d2" stroke="#5128d2">GmABCB15</text><text transform="translate(99.20,411.10) scale(0.88,1) rotate(0.03)" fill="#e8b83a" stroke="#e8b83a">GmABCG80</text><text transform="translate(99.20,418.30) scale(0.88,1) rotate(0.03)" fill="#2fb3e8" stroke="#2fb3e8">GmABCF5</text><text transform="translate(99.20,435.70) scale(0.88,1) rotate(0.03)" fill="#e8b83a" stroke="#e8b83a">GmABCG81</text></g>
<rect x="97.5" y="272.9" width="36.40" height="16.50" fill="none" stroke="#1b1b3c" stroke-width="0.8" stroke-dasharray="2.3 1.4"/>
<!-- Gm13 -->
<text x="130.9" y="268.1" font-size="6.3" font-weight="bold" fill="#111" stroke="#111" stroke-width="0.2">Gm13</text>
<rect x="136.14" y="273.90" width="5.32" height="181.30" rx="2.66" ry="2.66" fill="#fff" stroke="#a0a0a0" stroke-width="0.85"/>
<g><line x1="135.94" y1="278.90" x2="141.66" y2="278.90" stroke="#2fb3e8" stroke-width="0.65"/><line x1="135.94" y1="324.70" x2="141.66" y2="324.70" stroke="#e8b83a" stroke-width="0.65"/><line x1="135.94" y1="324.70" x2="141.66" y2="324.70" stroke="#e8b83a" stroke-width="0.65"/><line x1="135.94" y1="324.70" x2="141.66" y2="324.70" stroke="#e8b83a" stroke-width="0.65"/><line x1="135.94" y1="324.70" x2="141.66" y2="324.70" stroke="#e8b83a" stroke-width="0.65"/><line x1="135.94" y1="324.70" x2="141.66" y2="324.70" stroke="#e8b83a" stroke-width="0.65"/><line x1="135.94" y1="324.70" x2="141.66" y2="324.70" stroke="#e8b83a" stroke-width="0.65"/><line x1="135.94" y1="336.00" x2="141.66" y2="336.00" stroke="#5128d2" stroke-width="0.65"/><line x1="135.94" y1="340.80" x2="141.66" y2="340.80" stroke="#ef2f5f" stroke-width="0.65"/><line x1="135.94" y1="362.20" x2="141.66" y2="362.20" stroke="#5128d2" stroke-width="0.65"/><line x1="135.94" y1="362.20" x2="141.66" y2="362.20" stroke="#5128d2" stroke-width="0.65"/><line x1="135.94" y1="362.60" x2="141.66" y2="362.60" stroke="#5128d2" stroke-width="0.65"/><line x1="135.94" y1="362.90" x2="141.66" y2="362.90" stroke="#5128d2" stroke-width="0.65"/><line x1="135.94" y1="362.90" x2="141.66" y2="362.90" stroke="#5128d2" stroke-width="0.65"/><line x1="135.94" y1="365.00" x2="141.66" y2="365.00" stroke="#ef2f5f" stroke-width="0.65"/><line x1="135.94" y1="366.20" x2="141.66" y2="366.20" stroke="#06a77d" stroke-width="0.65"/><line x1="135.94" y1="371.70" x2="141.66" y2="371.70" stroke="#5128d2" stroke-width="0.65"/><line x1="135.94" y1="373.20" x2="141.66" y2="373.20" stroke="#e8b83a" stroke-width="0.65"/><line x1="135.94" y1="378.90" x2="141.66" y2="378.90" stroke="#ef2f5f" stroke-width="0.65"/><line x1="135.94" y1="380.50" x2="141.66" y2="380.50" stroke="#2fb3e8" stroke-width="0.65"/><line x1="135.94" y1="382.30" x2="141.66" y2="382.30" stroke="#ef2f5f" stroke-width="0.65"/><line x1="135.94" y1="389.20" x2="141.66" y2="389.20" stroke="#e8b83a" stroke-width="0.65"/><line x1="135.94" y1="403.60" x2="141.66" y2="403.60" stroke="#06a77d" stroke-width="0.65"/><line x1="135.94" y1="404.10" x2="141.66" y2="404.10" stroke="#5128d2" stroke-width="0.65"/><line x1="135.94" y1="418.60" x2="141.66" y2="418.60" stroke="#e8b83a" stroke-width="0.65"/><line x1="135.94" y1="420.90" x2="141.66" y2="420.90" stroke="#e8b83a" stroke-width="0.65"/><line x1="135.94" y1="436.20" x2="141.66" y2="436.20" stroke="#2fb3e8" stroke-width="0.65"/><line x1="135.94" y1="436.70" x2="141.66" y2="436.70" stroke="#e8b83a" stroke-width="0.65"/><line x1="135.94" y1="446.10" x2="141.66" y2="446.10" stroke="#e8b83a" stroke-width="0.65"/><line x1="135.94" y1="447.60" x2="141.66" y2="447.60" stroke="#e8b83a" stroke-width="0.65"/><line x1="135.94" y1="449.00" x2="141.66" y2="449.00" stroke="#e8b83a" stroke-width="0.65"/><line x1="135.94" y1="450.60" x2="141.66" y2="450.60" stroke="#06a77d" stroke-width="0.65"/></g>
<g fill="none" stroke="#3c3c3c" stroke-width="0.45"><polyline points="141.66,278.90 142.36,278.90 147.70,278.90 149.10,278.90"/><polyline points="141.66,324.70 142.36,324.70 147.70,300.80 149.10,300.80"/><polyline points="141.66,324.70 142.36,324.70 147.70,306.62 149.10,306.62"/><polyline points="141.66,324.70 142.36,324.70 147.70,312.45 149.10,312.45"/><polyline points="141.66,324.70 142.36,324.70 147.70,318.27 149.10,318.27"/><polyline points="141.66,324.70 142.36,324.70 147.70,324.09 149.10,324.09"/><polyline points="141.66,324.70 142.36,324.70 147.70,329.92 149.10,329.92"/><polyline points="141.66,336.00 142.36,336.00 147.70,335.74 149.10,335.74"/><polyline points="141.66,340.80 142.36,340.80 147.70,341.56 149.10,341.56"/><polyline points="141.66,362.20 142.36,362.20 147.70,347.38 149.10,347.38"/><polyline points="141.66,362.20 142.36,362.20 147.70,353.21 149.10,353.21"/><polyline points="141.66,362.60 142.36,362.60 147.70,359.03 149.10,359.03"/><polyline points="141.66,362.90 142.36,362.90 147.70,364.85 149.10,364.85"/><polyline points="141.66,362.90 142.36,362.90 147.70,370.68 149.10,370.68"/><polyline points="141.66,365.00 142.36,365.00 147.70,376.50 149.10,376.50"/><polyline points="141.66,366.20 142.36,366.20 147.70,382.32 149.10,382.32"/><polyline points="141.66,371.70 142.36,371.70 147.70,388.14 149.10,388.14"/><polyline points="141.66,373.20 142.36,373.20 147.70,393.97 149.10,393.97"/><polyline points="141.66,378.90 142.36,378.90 147.70,399.79 149.10,399.79"/><polyline points="141.66,380.50 142.36,380.50 147.70,405.61 149.10,405.61"/><polyline points="141.66,382.30 142.36,382.30 147.70,411.44 149.10,411.44"/><polyline points="141.66,389.20 142.36,389.20 147.70,417.26 149.10,417.26"/><polyline points="141.66,403.60 142.36,403.60 147.70,423.08 149.10,423.08"/><polyline points="141.66,404.10 142.36,404.10 147.70,428.91 149.10,428.91"/><polyline points="141.66,418.60 142.36,418.60 147.70,434.73 149.10,434.73"/><polyline points="141.66,420.90 142.36,420.90 147.70,440.55 149.10,440.55"/><polyline points="141.66,436.20 142.36,436.20 147.70,446.38 149.10,446.38"/><polyline points="141.66,436.70 142.36,436.70 147.70,452.20 149.10,452.20"/><polyline points="141.66,446.10 142.36,446.10 147.70,458.02 149.10,458.02"/><polyline points="141.66,447.60 142.36,447.60 147.70,463.84 149.10,463.84"/><polyline points="141.66,449.00 142.36,449.00 147.70,469.67 149.10,469.67"/><polyline points="141.66,450.60 142.36,450.60 147.70,475.49 149.10,475.49"/></g>
<g font-size="6.4" font-weight="bold" stroke-width="0.25" paint-order="stroke"><text transform="translate(150.00,281.30) scale(0.88,1) rotate(0.03)" fill="#2fb3e8" stroke="#2fb3e8">GmABCF6</text><text transform="translate(150.00,303.20) scale(0.88,1) rotate(0.03)" fill="#e8b83a" stroke="#e8b83a">GmABCG82</text><text transform="translate(150.00,309.02) scale(0.88,1) rotate(0.03)" fill="#e8b83a" stroke="#e8b83a">GmABCG83</text><text transform="translate(150.00,314.85) scale(0.88,1) rotate(0.03)" fill="#e8b83a" stroke="#e8b83a">GmABCG84</text><text transform="translate(150.00,320.67) scale(0.88,1) rotate(0.03)" fill="#e8b83a" stroke="#e8b83a">GmABCG85</text><text transform="translate(150.00,326.49) scale(0.88,1) rotate(0.03)" fill="#e8b83a" stroke="#e8b83a">GmABCG86</text><text transform="translate(150.00,332.32) scale(0.88,1) rotate(0.03)" fill="#e8b83a" stroke="#e8b83a">GmABCG87</text><text transform="translate(150.00,338.14) scale(0.88,1) rotate(0.03)" fill="#5128d2" stroke="#5128d2">GmABCB16</text><text transform="translate(150.00,343.96) scale(0.88,1) rotate(0.03)" fill="#ef2f5f" stroke="#ef2f5f">GmABCI15</text><text transform="translate(150.00,349.78) scale(0.88,1) rotate(0.03)" fill="#5128d2" stroke="#5128d2">GmABCB17</text><text transform="translate(150.00,355.61) scale(0.88,1) rotate(0.03)" fill="#5128d2" stroke="#5128d2">GmABCB18</text><text transform="translate(150.00,361.43) scale(0.88,1) rotate(0.03)" fill="#5128d2" stroke="#5128d2">GmABCB19</text><text transform="translate(150.00,367.25) scale(0.88,1) rotate(0.03)" fill="#5128d2" stroke="#5128d2">GmABCB20</text><text transform="translate(150.00,373.08) scale(0.88,1) rotate(0.03)" fill="#5128d2" stroke="#5128d2">GmABCB21</text><text transform="translate(150.00,378.90) scale(0.88,1) rotate(0.03)" fill="#ef2f5f" stroke="#ef2f5f">GmABCI8</text><text transform="translate(150.00,384.72) scale(0.88,1) rotate(0.03)" fill="#06a77d" stroke="#06a77d">GmABCC21</text><text transform="translate(150.00,390.54) scale(0.88,1) rotate(0.03)" fill="#5128d2" stroke="#5128d2">GmABCB22</text><text transform="translate(150.00,396.37) scale(0.88,1) rotate(0.03)" fill="#e8b83a" stroke="#e8b83a">GmABCG88</text><text transform="translate(150.00,402.19) scale(0.88,1) rotate(0.03)" fill="#ef2f5f" stroke="#ef2f5f">GmABCI9</text><text transform="translate(150.00,408.01) scale(0.88,1) rotate(0.03)" fill="#2fb3e8" stroke="#2fb3e8">GmABCF7</text><text transform="translate(150.00,413.84) scale(0.88,1) rotate(0.03)" fill="#ef2f5f" stroke="#ef2f5f">GmABCI20</text><text transform="translate(150.00,419.66) scale(0.88,1) rotate(0.03)" fill="#e8b83a" stroke="#e8b83a">GmABCG89</text><text transform="translate(150.00,425.48) scale(0.88,1) rotate(0.03)" fill="#06a77d" stroke="#06a77d">GmABCC22</text><text transform="translate(150.00,431.31) scale(0.88,1) rotate(0.03)" fill="#5128d2" stroke="#5128d2">GmABCB23</text><text transform="translate(150.00,437.13) scale(0.88,1) rotate(0.03)" fill="#e8b83a" stroke="#e8b83a">GmABCG90</text><text transform="translate(150.00,442.95) scale(0.88,1) rotate(0.03)" fill="#e8b83a" stroke="#e8b83a">GmABCG91</text><text transform="translate(150.00,448.78) scale(0.88,1) rotate(0.03)" fill="#2fb3e8" stroke="#2fb3e8">GmABCF8</text><text transform="translate(150.00,454.60) scale(0.88,1) rotate(0.03)" fill="#e8b83a" stroke="#e8b83a">GmABCG92</text><text transform="translate(150.00,460.42) scale(0.88,1) rotate(0.03)" fill="#e8b83a" stroke="#e8b83a">GmABCG16</text><text transform="translate(150.00,466.24) scale(0.88,1) rotate(0.03)" fill="#e8b83a" stroke="#e8b83a">GmABCG17</text><text transform="translate(150.00,472.07) scale(0.88,1) rotate(0.03)" fill="#e8b83a" stroke="#e8b83a">GmABCG35</text><text transform="translate(150.00,477.89) scale(0.88,1) rotate(0.03)" fill="#06a77d" stroke="#06a77d">GmABCC23</text></g>
<rect x="147.9" y="309.5" width="37.10" height="12.80" fill="none" stroke="#1b1b3c" stroke-width="0.8" stroke-dasharray="2.3 1.4"/>
<rect x="147.9" y="344.3" width="38.10" height="12.40" fill="none" stroke="#1b1b3c" stroke-width="0.8" stroke-dasharray="2.3 1.4"/>
<rect x="147.9" y="361.8" width="38.10" height="12.40" fill="none" stroke="#1b1b3c" stroke-width="0.8" stroke-dasharray="2.3 1.4"/>
<!-- Gm14 -->
<text x="184.0" y="268.1" font-size="6.3" font-weight="bold" fill="#111" stroke="#111" stroke-width="0.2">Gm14</text>
<rect x="189.24" y="273.90" width="5.32" height="198.20" rx="2.66" ry="2.66" fill="#fff" stroke="#a0a0a0" stroke-width="0.85"/>
<g><line x1="189.04" y1="279.00" x2="194.76" y2="279.00" stroke="#e8b83a" stroke-width="0.65"/><line x1="189.04" y1="279.90" x2="194.76" y2="279.90" stroke="#06a77d" stroke-width="0.65"/><line x1="189.04" y1="287.40" x2="194.76" y2="287.40" stroke="#ef2f5f" stroke-width="0.65"/><line x1="189.04" y1="340.20" x2="194.76" y2="340.20" stroke="#e8b83a" stroke-width="0.65"/><line x1="189.04" y1="458.00" x2="194.76" y2="458.00" stroke="#e8b83a" stroke-width="0.65"/><line x1="189.04" y1="463.40" x2="194.76" y2="463.40" stroke="#5128d2" stroke-width="0.65"/><line x1="189.04" y1="468.10" x2="194.76" y2="468.10" stroke="#5128d2" stroke-width="0.65"/></g>
<g fill="none" stroke="#3c3c3c" stroke-width="0.45"><polyline points="194.76,279.00 195.46,279.00 201.20,276.80 202.60,276.80"/><polyline points="194.76,279.90 195.46,279.90 201.20,283.40 202.60,283.40"/><polyline points="194.76,287.40 195.46,287.40 201.20,290.00 202.60,290.00"/><polyline points="194.76,340.20 195.46,340.20 201.20,340.20 202.60,340.20"/><polyline points="194.76,458.00 195.46,458.00 201.20,457.30 202.60,457.30"/><polyline points="194.76,463.40 195.46,463.40 201.20,463.20 202.60,463.20"/><polyline points="194.76,468.10 195.46,468.10 201.20,469.00 202.60,469.00"/></g>
<g font-size="6.4" font-weight="bold" stroke-width="0.25" paint-order="stroke"><text transform="translate(203.50,279.20) scale(0.88,1) rotate(0.03)" fill="#e8b83a" stroke="#e8b83a">GmABCG93</text><text transform="translate(203.50,285.80) scale(0.88,1) rotate(0.03)" fill="#06a77d" stroke="#06a77d">GmABCC24</text><text transform="translate(203.50,292.40) scale(0.88,1) rotate(0.03)" fill="#ef2f5f" stroke="#ef2f5f">GmABCI16</text><text transform="translate(203.50,342.60) scale(0.88,1) rotate(0.03)" fill="#e8b83a" stroke="#e8b83a">GmABCG18</text><text transform="translate(203.50,459.70) scale(0.88,1) rotate(0.03)" fill="#e8b83a" stroke="#e8b83a">GmABCG19</text><text transform="translate(203.50,465.60) scale(0.88,1) rotate(0.03)" fill="#5128d2" stroke="#5128d2">GmABCB45</text><text transform="translate(203.50,471.40) scale(0.88,1) rotate(0.03)" fill="#5128d2" stroke="#5128d2">GmABCB24</text></g>
<!-- Gm15 -->
<text x="235.2" y="268.1" font-size="6.3" font-weight="bold" fill="#111" stroke="#111" stroke-width="0.2">Gm15</text>
<rect x="239.94" y="273.90" width="5.32" height="213.70" rx="2.66" ry="2.66" fill="#fff" stroke="#a0a0a0" stroke-width="0.85"/>
<g><line x1="239.74" y1="278.60" x2="245.46" y2="278.60" stroke="#e8b83a" stroke-width="0.65"/><line x1="239.74" y1="279.20" x2="245.46" y2="279.20" stroke="#e8b83a" stroke-width="0.65"/><line x1="239.74" y1="280.80" x2="245.46" y2="280.80" stroke="#e8b83a" stroke-width="0.65"/><line x1="239.74" y1="281.40" x2="245.46" y2="281.40" stroke="#e8b83a" stroke-width="0.65"/><line x1="239.74" y1="303.00" x2="245.46" y2="303.00" stroke="#5128d2" stroke-width="0.65"/><line x1="239.74" y1="303.40" x2="245.46" y2="303.40" stroke="#06a77d" stroke-width="0.65"/><line x1="239.74" y1="323.60" x2="245.46" y2="323.60" stroke="#06a77d" stroke-width="0.65"/><line x1="239.74" y1="324.00" x2="245.46" y2="324.00" stroke="#06a77d" stroke-width="0.65"/><line x1="239.74" y1="461.50" x2="245.46" y2="461.50" stroke="#06a77d" stroke-width="0.65"/></g>
<g fill="none" stroke="#3c3c3c" stroke-width="0.45"><polyline points="245.46,278.60 246.16,278.60 250.90,275.40 252.30,275.40"/><polyline points="245.46,279.20 246.16,279.20 250.90,281.30 252.30,281.30"/><polyline points="245.46,280.80 246.16,280.80 250.90,287.40 252.30,287.40"/><polyline points="245.46,281.40 246.16,281.40 250.90,293.40 252.30,293.40"/><polyline points="245.46,303.00 246.16,303.00 250.90,299.60 252.30,299.60"/><polyline points="245.46,303.40 246.16,303.40 250.90,306.60 252.30,306.60"/><polyline points="245.46,323.60 246.16,323.60 250.90,320.50 252.30,320.50"/><polyline points="245.46,324.00 246.16,324.00 250.90,326.60 252.30,326.60"/><polyline points="245.46,461.50 246.16,461.50 250.90,461.50 252.30,461.50"/></g>
<g font-size="6.4" font-weight="bold" stroke-width="0.25" paint-order="stroke"><text transform="translate(253.20,277.80) scale(0.88,1) rotate(0.03)" fill="#e8b83a" stroke="#e8b83a">GmABCG20</text><text transform="translate(253.20,283.70) scale(0.88,1) rotate(0.03)" fill="#e8b83a" stroke="#e8b83a">GmABCG21</text><text transform="translate(253.20,289.80) scale(0.88,1) rotate(0.03)" fill="#e8b83a" stroke="#e8b83a">GmABCG22</text><text transform="translate(253.20,295.80) scale(0.88,1) rotate(0.03)" fill="#e8b83a" stroke="#e8b83a">GmABCG23</text><text transform="translate(253.20,302.00) scale(0.88,1) rotate(0.03)" fill="#5128d2" stroke="#5128d2">GmABCB25</text><text transform="translate(253.20,309.00) scale(0.88,1) rotate(0.03)" fill="#06a77d" stroke="#06a77d">GmABCC25</text><text transform="translate(253.20,322.90) scale(0.88,1) rotate(0.03)" fill="#06a77d" stroke="#06a77d">GmABCC26</text><text transform="translate(253.20,329.00) scale(0.88,1) rotate(0.03)" fill="#06a77d" stroke="#06a77d">GmABCC45</text><text transform="translate(253.20,463.90) scale(0.88,1) rotate(0.03)" fill="#06a77d" stroke="#06a77d">GmABCC37</text></g>
<rect x="251.6" y="277.8" width="36.70" height="13.00" fill="none" stroke="#1b1b3c" stroke-width="0.8" stroke-dasharray="2.3 1.4"/>
<!-- Gm16 -->
<text x="286.1" y="268.1" font-size="6.3" font-weight="bold" fill="#111" stroke="#111" stroke-width="0.2">Gm16</text>
<rect x="290.44" y="273.90" width="5.32" height="153.10" rx="2.66" ry="2.66" fill="#fff" stroke="#a0a0a0" stroke-width="0.85"/>
<g><line x1="290.24" y1="279.20" x2="295.96" y2="279.20" stroke="#5128d2" stroke-width="0.65"/><line x1="290.24" y1="303.10" x2="295.96" y2="303.10" stroke="#5128d2" stroke-width="0.65"/><line x1="290.24" y1="305.20" x2="295.96" y2="305.20" stroke="#e8b83a" stroke-width="0.65"/><line x1="290.24" y1="306.40" x2="295.96" y2="306.40" stroke="#5128d2" stroke-width="0.65"/><line x1="290.24" y1="370.40" x2="295.96" y2="370.40" stroke="#e8b83a" stroke-width="0.65"/><line x1="290.24" y1="406.20" x2="295.96" y2="406.20" stroke="#06a77d" stroke-width="0.65"/><line x1="290.24" y1="406.20" x2="295.96" y2="406.20" stroke="#06a77d" stroke-width="0.65"/><line x1="290.24" y1="406.20" x2="295.96" y2="406.20" stroke="#06a77d" stroke-width="0.65"/><line x1="290.24" y1="420.20" x2="295.96" y2="420.20" stroke="#e8b83a" stroke-width="0.65"/></g>
<g fill="none" stroke="#3c3c3c" stroke-width="0.45"><polyline points="295.96,279.20 296.66,279.20 301.90,279.20 303.30,279.20"/><polyline points="295.96,303.10 296.66,303.10 301.90,299.60 303.30,299.60"/><polyline points="295.96,305.20 296.66,305.20 301.90,305.50 303.30,305.50"/><polyline points="295.96,306.40 296.66,306.40 301.90,311.60 303.30,311.60"/><polyline points="295.96,370.40 296.66,370.40 301.90,370.40 303.30,370.40"/><polyline points="295.96,406.20 296.66,406.20 301.90,399.10 303.30,399.10"/><polyline points="295.96,406.20 296.66,406.20 301.90,406.30 303.30,406.30"/><polyline points="295.96,406.20 296.66,406.20 301.90,413.60 303.30,413.60"/><polyline points="295.96,420.20 296.66,420.20 301.90,420.20 303.30,420.20"/></g>
<g font-size="6.4" font-weight="bold" stroke-width="0.25" paint-order="stroke"><text transform="translate(304.20,281.60) scale(0.88,1) rotate(0.03)" fill="#5128d2" stroke="#5128d2">GmABCB26</text><text transform="translate(304.20,302.00) scale(0.88,1) rotate(0.03)" fill="#5128d2" stroke="#5128d2">GmABCB51</text><text transform="translate(304.20,307.90) scale(0.88,1) rotate(0.03)" fill="#e8b83a" stroke="#e8b83a">GmABCG94</text><text transform="translate(304.20,314.00) scale(0.88,1) rotate(0.03)" fill="#5128d2" stroke="#5128d2">GmABCB27</text><text transform="translate(304.20,372.80) scale(0.88,1) rotate(0.03)" fill="#e8b83a" stroke="#e8b83a">GmABCG95</text><text transform="translate(304.20,401.50) scale(0.88,1) rotate(0.03)" fill="#06a77d" stroke="#06a77d">GmABCC27</text><text transform="translate(304.20,408.70) scale(0.88,1) rotate(0.03)" fill="#06a77d" stroke="#06a77d">GmABCC28</text><text transform="translate(304.20,416.00) scale(0.88,1) rotate(0.03)" fill="#06a77d" stroke="#06a77d">GmABCC29</text><text transform="translate(304.20,422.60) scale(0.88,1) rotate(0.03)" fill="#e8b83a" stroke="#e8b83a">GmABCG96</text></g>
<!-- Gm17 -->
<text x="337.2" y="268.1" font-size="6.3" font-weight="bold" fill="#111" stroke="#111" stroke-width="0.2">Gm17</text>
<rect x="341.04" y="273.90" width="5.32" height="167.10" rx="2.66" ry="2.66" fill="#fff" stroke="#a0a0a0" stroke-width="0.85"/>
<g><line x1="340.84" y1="284.80" x2="346.56" y2="284.80" stroke="#e8b83a" stroke-width="0.65"/><line x1="340.84" y1="286.50" x2="346.56" y2="286.50" stroke="#e8b83a" stroke-width="0.65"/><line x1="340.84" y1="286.90" x2="346.56" y2="286.90" stroke="#e8b83a" stroke-width="0.65"/><line x1="340.84" y1="287.30" x2="346.56" y2="287.30" stroke="#5128d2" stroke-width="0.65"/><line x1="340.84" y1="287.90" x2="346.56" y2="287.90" stroke="#5128d2" stroke-width="0.65"/><line x1="340.84" y1="300.10" x2="346.56" y2="300.10" stroke="#5128d2" stroke-width="0.65"/><line x1="340.84" y1="300.50" x2="346.56" y2="300.50" stroke="#5128d2" stroke-width="0.65"/><line x1="340.84" y1="305.90" x2="346.56" y2="305.90" stroke="#f04fc4" stroke-width="0.65"/><line x1="340.84" y1="308.50" x2="346.56" y2="308.50" stroke="#ef2f5f" stroke-width="0.65"/><line x1="340.84" y1="310.40" x2="346.56" y2="310.40" stroke="#2fb3e8" stroke-width="0.65"/><line x1="340.84" y1="312.00" x2="346.56" y2="312.00" stroke="#e8b83a" stroke-width="0.65"/><line x1="340.84" y1="406.00" x2="346.56" y2="406.00" stroke="#e8b83a" stroke-width="0.65"/><line x1="340.84" y1="406.40" x2="346.56" y2="406.40" stroke="#e8b83a" stroke-width="0.65"/><line x1="340.84" y1="437.00" x2="346.56" y2="437.00" stroke="#5128d2" stroke-width="0.65"/></g>
<g fill="none" stroke="#3c3c3c" stroke-width="0.45"><polyline points="346.56,284.80 347.26,284.80 352.80,276.10 354.20,276.10"/><polyline points="346.56,286.50 347.26,286.50 352.80,282.00 354.20,282.00"/><polyline points="346.56,286.90 347.26,286.90 352.80,287.90 354.20,287.90"/><polyline points="346.56,287.30 347.26,287.30 352.80,293.70 354.20,293.70"/><polyline points="346.56,287.90 347.26,287.90 352.80,299.60 354.20,299.60"/><polyline points="346.56,300.10 347.26,300.10 352.80,305.50 354.20,305.50"/><polyline points="346.56,300.50 347.26,300.50 352.80,311.30 354.20,311.30"/><polyline points="346.56,305.90 347.26,305.90 352.80,317.20 354.20,317.20"/><polyline points="346.56,308.50 347.26,308.50 352.80,323.10 354.20,323.10"/><polyline points="346.56,310.40 347.26,310.40 352.80,329.20 354.20,329.20"/><polyline points="346.56,312.00 347.26,312.00 352.80,334.80 354.20,334.80"/><polyline points="346.56,406.00 347.26,406.00 352.80,402.30 354.20,402.30"/><polyline points="346.56,406.40 347.26,406.40 352.80,409.50 354.20,409.50"/><polyline points="346.56,437.00 347.26,437.00 352.80,437.00 354.20,437.00"/></g>
<g font-size="6.4" font-weight="bold" stroke-width="0.25" paint-order="stroke"><text transform="translate(355.10,278.50) scale(0.88,1) rotate(0.03)" fill="#e8b83a" stroke="#e8b83a">GmABCG36</text><text transform="translate(355.10,284.40) scale(0.88,1) rotate(0.03)" fill="#e8b83a" stroke="#e8b83a">GmABCG24</text><text transform="translate(355.10,290.30) scale(0.88,1) rotate(0.03)" fill="#e8b83a" stroke="#e8b83a">GmABCG25</text><text transform="translate(355.10,296.10) scale(0.88,1) rotate(0.03)" fill="#5128d2" stroke="#5128d2">GmABCB28</text><text transform="translate(355.10,302.00) scale(0.88,1) rotate(0.03)" fill="#5128d2" stroke="#5128d2">GmABCB29</text><text transform="translate(355.10,307.90) scale(0.88,1) rotate(0.03)" fill="#5128d2" stroke="#5128d2">GmABCB30</text><text transform="translate(355.10,313.70) scale(0.88,1) rotate(0.03)" fill="#5128d2" stroke="#5128d2">GmABCB52</text><text transform="translate(355.10,319.60) scale(0.88,1) rotate(0.03)" fill="#f04fc4" stroke="#f04fc4">GmABCA7</text><text transform="translate(355.10,325.50) scale(0.88,1) rotate(0.03)" fill="#ef2f5f" stroke="#ef2f5f">GmABCI21</text><text transform="translate(355.10,331.60) scale(0.88,1) rotate(0.03)" fill="#2fb3e8" stroke="#2fb3e8">GmABCF9</text><text transform="translate(355.10,337.20) scale(0.88,1) rotate(0.03)" fill="#e8b83a" stroke="#e8b83a">GmABCG26</text><text transform="translate(355.10,404.70) scale(0.88,1) rotate(0.03)" fill="#e8b83a" stroke="#e8b83a">GmABCG27</text><text transform="translate(355.10,411.90) scale(0.88,1) rotate(0.03)" fill="#e8b83a" stroke="#e8b83a">GmABCG28</text><text transform="translate(355.10,439.40) scale(0.88,1) rotate(0.03)" fill="#5128d2" stroke="#5128d2">GmABCB31</text></g>
<!-- Gm18 -->
<text x="388.6" y="268.1" font-size="6.3" font-weight="bold" fill="#111" stroke="#111" stroke-width="0.2">Gm18</text>
<rect x="392.04" y="273.90" width="5.32" height="231.30" rx="2.66" ry="2.66" fill="#fff" stroke="#a0a0a0" stroke-width="0.85"/>
<g><line x1="391.84" y1="279.20" x2="397.56" y2="279.20" stroke="#5128d2" stroke-width="0.65"/><line x1="391.84" y1="280.40" x2="397.56" y2="280.40" stroke="#b5673a" stroke-width="0.65"/><line x1="391.84" y1="298.40" x2="397.56" y2="298.40" stroke="#e8b83a" stroke-width="0.65"/><line x1="391.84" y1="303.10" x2="397.56" y2="303.10" stroke="#e8b83a" stroke-width="0.65"/><line x1="391.84" y1="305.00" x2="397.56" y2="305.00" stroke="#06a77d" stroke-width="0.65"/><line x1="391.84" y1="305.40" x2="397.56" y2="305.40" stroke="#06a77d" stroke-width="0.65"/><line x1="391.84" y1="305.80" x2="397.56" y2="305.80" stroke="#06a77d" stroke-width="0.65"/><line x1="391.84" y1="306.20" x2="397.56" y2="306.20" stroke="#06a77d" stroke-width="0.65"/><line x1="391.84" y1="396.80" x2="397.56" y2="396.80" stroke="#5128d2" stroke-width="0.65"/><line x1="391.84" y1="413.60" x2="397.56" y2="413.60" stroke="#06a77d" stroke-width="0.65"/><line x1="391.84" y1="444.50" x2="397.56" y2="444.50" stroke="#5128d2" stroke-width="0.65"/><line x1="391.84" y1="482.90" x2="397.56" y2="482.90" stroke="#ef2f5f" stroke-width="0.65"/><line x1="391.84" y1="490.60" x2="397.56" y2="490.60" stroke="#06a77d" stroke-width="0.65"/><line x1="391.84" y1="498.00" x2="397.56" y2="498.00" stroke="#5128d2" stroke-width="0.65"/></g>
<g fill="none" stroke="#3c3c3c" stroke-width="0.45"><polyline points="397.56,279.20 398.26,279.20 403.40,276.10 404.80,276.10"/><polyline points="397.56,280.40 398.26,280.40 403.40,282.00 404.80,282.00"/><polyline points="397.56,298.40 398.26,298.40 403.40,287.90 404.80,287.90"/><polyline points="397.56,303.10 398.26,303.10 403.40,293.70 404.80,293.70"/><polyline points="397.56,305.00 398.26,305.00 403.40,299.80 404.80,299.80"/><polyline points="397.56,305.40 398.26,305.40 403.40,305.90 404.80,305.90"/><polyline points="397.56,305.80 398.26,305.80 403.40,312.00 404.80,312.00"/><polyline points="397.56,306.20 398.26,306.20 403.40,317.90 404.80,317.90"/><polyline points="397.56,396.80 398.26,396.80 403.40,396.80 404.80,396.80"/><polyline points="397.56,413.60 398.26,413.60 403.40,413.60 404.80,413.60"/><polyline points="397.56,444.50 398.26,444.50 403.40,444.50 404.80,444.50"/><polyline points="397.56,482.90 398.26,482.90 403.40,482.90 404.80,482.90"/><polyline points="397.56,490.60 398.26,490.60 403.40,490.60 404.80,490.60"/><polyline points="397.56,498.00 398.26,498.00 403.40,498.00 404.80,498.00"/></g>
<g font-size="6.4" font-weight="bold" stroke-width="0.25" paint-order="stroke"><text transform="translate(405.70,278.50) scale(0.88,1) rotate(0.03)" fill="#5128d2" stroke="#5128d2">GmABCB32</text><text transform="translate(405.70,284.40) scale(0.88,1) rotate(0.03)" fill="#b5673a" stroke="#b5673a">GmABCD5</text><text transform="translate(405.70,290.30) scale(0.88,1) rotate(0.03)" fill="#e8b83a" stroke="#e8b83a">GmABCG29</text><text transform="translate(405.70,296.10) scale(0.88,1) rotate(0.03)" fill="#e8b83a" stroke="#e8b83a">GmABCG97</text><text transform="translate(405.70,302.20) scale(0.88,1) rotate(0.03)" fill="#06a77d" stroke="#06a77d">GmABCC41</text><text transform="translate(405.70,308.30) scale(0.88,1) rotate(0.03)" fill="#06a77d" stroke="#06a77d">GmABCC40</text><text transform="translate(405.70,314.40) scale(0.88,1) rotate(0.03)" fill="#06a77d" stroke="#06a77d">GmABCC46</text><text transform="translate(405.70,320.30) scale(0.88,1) rotate(0.03)" fill="#06a77d" stroke="#06a77d">GmABCC30</text><text transform="translate(405.70,399.20) scale(0.88,1) rotate(0.03)" fill="#5128d2" stroke="#5128d2">GmABCB33</text><text transform="translate(405.70,416.00) scale(0.88,1) rotate(0.03)" fill="#06a77d" stroke="#06a77d">GmABCC31</text><text transform="translate(405.70,446.90) scale(0.88,1) rotate(0.03)" fill="#5128d2" stroke="#5128d2">GmABCB43</text><text transform="translate(405.70,485.30) scale(0.88,1) rotate(0.03)" fill="#ef2f5f" stroke="#ef2f5f">GmABCI10</text><text transform="translate(405.70,493.00) scale(0.88,1) rotate(0.03)" fill="#06a77d" stroke="#06a77d">GmABCC32</text><text transform="translate(405.70,500.40) scale(0.88,1) rotate(0.03)" fill="#5128d2" stroke="#5128d2">GmABCB34</text></g>
<!-- Gm19 -->
<text x="437.7" y="268.1" font-size="6.3" font-weight="bold" fill="#111" stroke="#111" stroke-width="0.2">Gm19</text>
<rect x="442.44" y="273.90" width="5.32" height="203.60" rx="2.66" ry="2.66" fill="#fff" stroke="#a0a0a0" stroke-width="0.85"/>
<g><line x1="442.24" y1="282.50" x2="447.96" y2="282.50" stroke="#5128d2" stroke-width="0.65"/><line x1="442.24" y1="282.50" x2="447.96" y2="282.50" stroke="#5128d2" stroke-width="0.65"/><line x1="442.24" y1="283.80" x2="447.96" y2="283.80" stroke="#5128d2" stroke-width="0.65"/><line x1="442.24" y1="283.80" x2="447.96" y2="283.80" stroke="#5128d2" stroke-width="0.65"/><line x1="442.24" y1="407.90" x2="447.96" y2="407.90" stroke="#ef2f5f" stroke-width="0.65"/><line x1="442.24" y1="433.00" x2="447.96" y2="433.00" stroke="#e8b83a" stroke-width="0.65"/><line x1="442.24" y1="444.60" x2="447.96" y2="444.60" stroke="#06a77d" stroke-width="0.65"/><line x1="442.24" y1="445.80" x2="447.96" y2="445.80" stroke="#e8b83a" stroke-width="0.65"/><line x1="442.24" y1="446.30" x2="447.96" y2="446.30" stroke="#e8b83a" stroke-width="0.65"/><line x1="442.24" y1="446.80" x2="447.96" y2="446.80" stroke="#e8b83a" stroke-width="0.65"/><line x1="442.24" y1="449.90" x2="447.96" y2="449.90" stroke="#5128d2" stroke-width="0.65"/><line x1="442.24" y1="452.90" x2="447.96" y2="452.90" stroke="#e8b83a" stroke-width="0.65"/><line x1="442.24" y1="456.70" x2="447.96" y2="456.70" stroke="#e8b83a" stroke-width="0.65"/><line x1="442.24" y1="458.60" x2="447.96" y2="458.60" stroke="#06a77d" stroke-width="0.65"/><line x1="442.24" y1="459.00" x2="447.96" y2="459.00" stroke="#06a77d" stroke-width="0.65"/><line x1="442.24" y1="459.40" x2="447.96" y2="459.40" stroke="#06a77d" stroke-width="0.65"/></g>
<g fill="none" stroke="#3c3c3c" stroke-width="0.45"><polyline points="447.96,282.50 448.66,282.50 453.50,276.50 454.90,276.50"/><polyline points="447.96,282.50 448.66,282.50 453.50,282.20 454.90,282.20"/><polyline points="447.96,283.80 448.66,283.80 453.50,288.20 454.90,288.20"/><polyline points="447.96,283.80 448.66,283.80 453.50,294.00 454.90,294.00"/><polyline points="447.96,407.90 448.66,407.90 453.50,407.60 454.90,407.60"/><polyline points="447.96,433.00 448.66,433.00 453.50,418.50 454.90,418.50"/><polyline points="447.96,444.60 448.66,444.60 453.50,424.10 454.90,424.10"/><polyline points="447.96,445.80 448.66,445.80 453.50,430.30 454.90,430.30"/><polyline points="447.96,446.30 448.66,446.30 453.50,436.10 454.90,436.10"/><polyline points="447.96,446.80 448.66,446.80 453.50,441.90 454.90,441.90"/><polyline points="447.96,449.90 448.66,449.90 453.50,447.60 454.90,447.60"/><polyline points="447.96,452.90 448.66,452.90 453.50,453.40 454.90,453.40"/><polyline points="447.96,456.70 448.66,456.70 453.50,459.40 454.90,459.40"/><polyline points="447.96,458.60 448.66,458.60 453.50,465.50 454.90,465.50"/><polyline points="447.96,459.00 448.66,459.00 453.50,471.40 454.90,471.40"/><polyline points="447.96,459.40 448.66,459.40 453.50,477.00 454.90,477.00"/></g>
<g font-size="6.4" font-weight="bold" stroke-width="0.25" paint-order="stroke"><text transform="translate(455.80,278.90) scale(0.88,1) rotate(0.03)" fill="#5128d2" stroke="#5128d2">GmABCB35</text><text transform="translate(455.80,284.60) scale(0.88,1) rotate(0.03)" fill="#5128d2" stroke="#5128d2">GmABCB36</text><text transform="translate(455.80,290.60) scale(0.88,1) rotate(0.03)" fill="#5128d2" stroke="#5128d2">GmABCB37</text><text transform="translate(455.80,296.40) scale(0.88,1) rotate(0.03)" fill="#5128d2" stroke="#5128d2">GmABCB38</text><text transform="translate(455.80,410.00) scale(0.88,1) rotate(0.03)" fill="#ef2f5f" stroke="#ef2f5f">GmABCI11</text><text transform="translate(455.80,420.90) scale(0.88,1) rotate(0.03)" fill="#e8b83a" stroke="#e8b83a">GmABCG98</text><text transform="translate(455.80,426.50) scale(0.88,1) rotate(0.03)" fill="#06a77d" stroke="#06a77d">GmABCC33</text><text transform="translate(455.80,432.70) scale(0.88,1) rotate(0.03)" fill="#e8b83a" stroke="#e8b83a">GmABCG30</text><text transform="translate(455.80,438.50) scale(0.88,1) rotate(0.03)" fill="#e8b83a" stroke="#e8b83a">GmABCG31</text><text transform="translate(455.80,444.30) scale(0.88,1) rotate(0.03)" fill="#e8b83a" stroke="#e8b83a">GmABCG99</text><text transform="translate(455.80,450.00) scale(0.88,1) rotate(0.03)" fill="#5128d2" stroke="#5128d2">GmABCB39</text><text transform="translate(455.80,455.80) scale(0.88,1) rotate(0.03)" fill="#e8b83a" stroke="#e8b83a">GmABCG32</text><text transform="translate(455.80,461.80) scale(0.88,1) rotate(0.03)" fill="#e8b83a" stroke="#e8b83a">GmABCG100</text><text transform="translate(455.80,467.90) scale(0.88,1) rotate(0.03)" fill="#06a77d" stroke="#06a77d">GmABCC34</text><text transform="translate(455.80,473.80) scale(0.88,1) rotate(0.03)" fill="#06a77d" stroke="#06a77d">GmABCC42</text><text transform="translate(455.80,479.40) scale(0.88,1) rotate(0.03)" fill="#06a77d" stroke="#06a77d">GmABCC43</text></g>
<rect x="454.4" y="272.3" width="36.70" height="19.90" fill="none" stroke="#1b1b3c" stroke-width="0.8" stroke-dasharray="2.3 1.4"/>
<rect x="454.1" y="462.2" width="37.00" height="11.80" fill="none" stroke="#1b1b3c" stroke-width="0.8" stroke-dasharray="2.3 1.4"/>
<!-- Gm20 -->
<text x="489.1" y="268.1" font-size="6.3" font-weight="bold" fill="#111" stroke="#111" stroke-width="0.2">Gm20</text>
<rect x="493.24" y="273.90" width="5.32" height="191.00" rx="2.66" ry="2.66" fill="#fff" stroke="#a0a0a0" stroke-width="0.85"/>
<g><line x1="493.04" y1="303.80" x2="498.76" y2="303.80" stroke="#e8b83a" stroke-width="0.65"/><line x1="493.04" y1="312.00" x2="498.76" y2="312.00" stroke="#ef2f5f" stroke-width="0.65"/><line x1="493.04" y1="322.10" x2="498.76" y2="322.10" stroke="#e8b83a" stroke-width="0.65"/><line x1="493.04" y1="367.20" x2="498.76" y2="367.20" stroke="#2fb3e8" stroke-width="0.65"/><line x1="493.04" y1="407.40" x2="498.76" y2="407.40" stroke="#ef2f5f" stroke-width="0.65"/><line x1="493.04" y1="418.40" x2="498.76" y2="418.40" stroke="#e8b83a" stroke-width="0.65"/><line x1="493.04" y1="418.80" x2="498.76" y2="418.80" stroke="#e8b83a" stroke-width="0.65"/><line x1="493.04" y1="419.20" x2="498.76" y2="419.20" stroke="#e8b83a" stroke-width="0.65"/><line x1="493.04" y1="431.90" x2="498.76" y2="431.90" stroke="#06a77d" stroke-width="0.65"/><line x1="493.04" y1="436.80" x2="498.76" y2="436.80" stroke="#e8b83a" stroke-width="0.65"/><line x1="493.04" y1="439.50" x2="498.76" y2="439.50" stroke="#e8b83a" stroke-width="0.65"/><line x1="493.04" y1="440.50" x2="498.76" y2="440.50" stroke="#e8b83a" stroke-width="0.65"/><line x1="493.04" y1="441.30" x2="498.76" y2="441.30" stroke="#e8b83a" stroke-width="0.65"/><line x1="493.04" y1="458.70" x2="498.76" y2="458.70" stroke="#5128d2" stroke-width="0.65"/><line x1="493.04" y1="459.10" x2="498.76" y2="459.10" stroke="#e8b83a" stroke-width="0.65"/></g>
<g fill="none" stroke="#3c3c3c" stroke-width="0.45"><polyline points="498.76,303.80 499.46,303.80 504.70,303.80 506.10,303.80"/><polyline points="498.76,312.00 499.46,312.00 504.70,312.00 506.10,312.00"/><polyline points="498.76,322.10 499.46,322.10 504.70,322.10 506.10,322.10"/><polyline points="498.76,367.20 499.46,367.20 504.70,367.20 506.10,367.20"/><polyline points="498.76,407.40 499.46,407.40 504.70,400.20 506.10,400.20"/><polyline points="498.76,418.40 499.46,418.40 504.70,406.40 506.10,406.40"/><polyline points="498.76,418.80 499.46,418.80 504.70,412.50 506.10,412.50"/><polyline points="498.76,419.20 499.46,419.20 504.70,418.60 506.10,418.60"/><polyline points="498.76,431.90 499.46,431.90 504.70,424.60 506.10,424.60"/><polyline points="498.76,436.80 499.46,436.80 504.70,430.50 506.10,430.50"/><polyline points="498.76,439.50 499.46,439.50 504.70,436.40 506.10,436.40"/><polyline points="498.76,440.50 499.46,440.50 504.70,442.20 506.10,442.20"/><polyline points="498.76,441.30 499.46,441.30 504.70,448.10 506.10,448.10"/><polyline points="498.76,458.70 499.46,458.70 504.70,455.90 506.10,455.90"/><polyline points="498.76,459.10 499.46,459.10 504.70,462.20 506.10,462.20"/></g>
<g font-size="6.4" font-weight="bold" stroke-width="0.25" paint-order="stroke"><text transform="translate(507.00,306.20) scale(0.88,1) rotate(0.03)" fill="#e8b83a" stroke="#e8b83a">GmABCG101</text><text transform="translate(507.00,314.40) scale(0.88,1) rotate(0.03)" fill="#ef2f5f" stroke="#ef2f5f">GmABCI17</text><text transform="translate(507.00,324.50) scale(0.88,1) rotate(0.03)" fill="#e8b83a" stroke="#e8b83a">GmABCG107</text><text transform="translate(507.00,369.60) scale(0.88,1) rotate(0.03)" fill="#2fb3e8" stroke="#2fb3e8">GmABCF10</text><text transform="translate(507.00,402.60) scale(0.88,1) rotate(0.03)" fill="#ef2f5f" stroke="#ef2f5f">GmABCI12</text><text transform="translate(507.00,408.80) scale(0.88,1) rotate(0.03)" fill="#e8b83a" stroke="#e8b83a">GmABCG110</text><text transform="translate(507.00,414.90) scale(0.88,1) rotate(0.03)" fill="#e8b83a" stroke="#e8b83a">GmABCG108</text><text transform="translate(507.00,421.00) scale(0.88,1) rotate(0.03)" fill="#e8b83a" stroke="#e8b83a">GmABCG109</text><text transform="translate(507.00,427.00) scale(0.88,1) rotate(0.03)" fill="#06a77d" stroke="#06a77d">GmABCC35</text><text transform="translate(507.00,432.90) scale(0.88,1) rotate(0.03)" fill="#e8b83a" stroke="#e8b83a">GmABCG102</text><text transform="translate(507.00,438.80) scale(0.88,1) rotate(0.03)" fill="#e8b83a" stroke="#e8b83a">GmABCG103</text><text transform="translate(507.00,444.60) scale(0.88,1) rotate(0.03)" fill="#e8b83a" stroke="#e8b83a">GmABCG104</text><text transform="translate(507.00,450.50) scale(0.88,1) rotate(0.03)" fill="#e8b83a" stroke="#e8b83a">GmABCG33</text><text transform="translate(507.00,458.30) scale(0.88,1) rotate(0.03)" fill="#5128d2" stroke="#5128d2">GmABCB40</text><text transform="translate(507.00,464.60) scale(0.88,1) rotate(0.03)" fill="#e8b83a" stroke="#e8b83a">GmABCG105</text></g>
</svg>
</body></html>
